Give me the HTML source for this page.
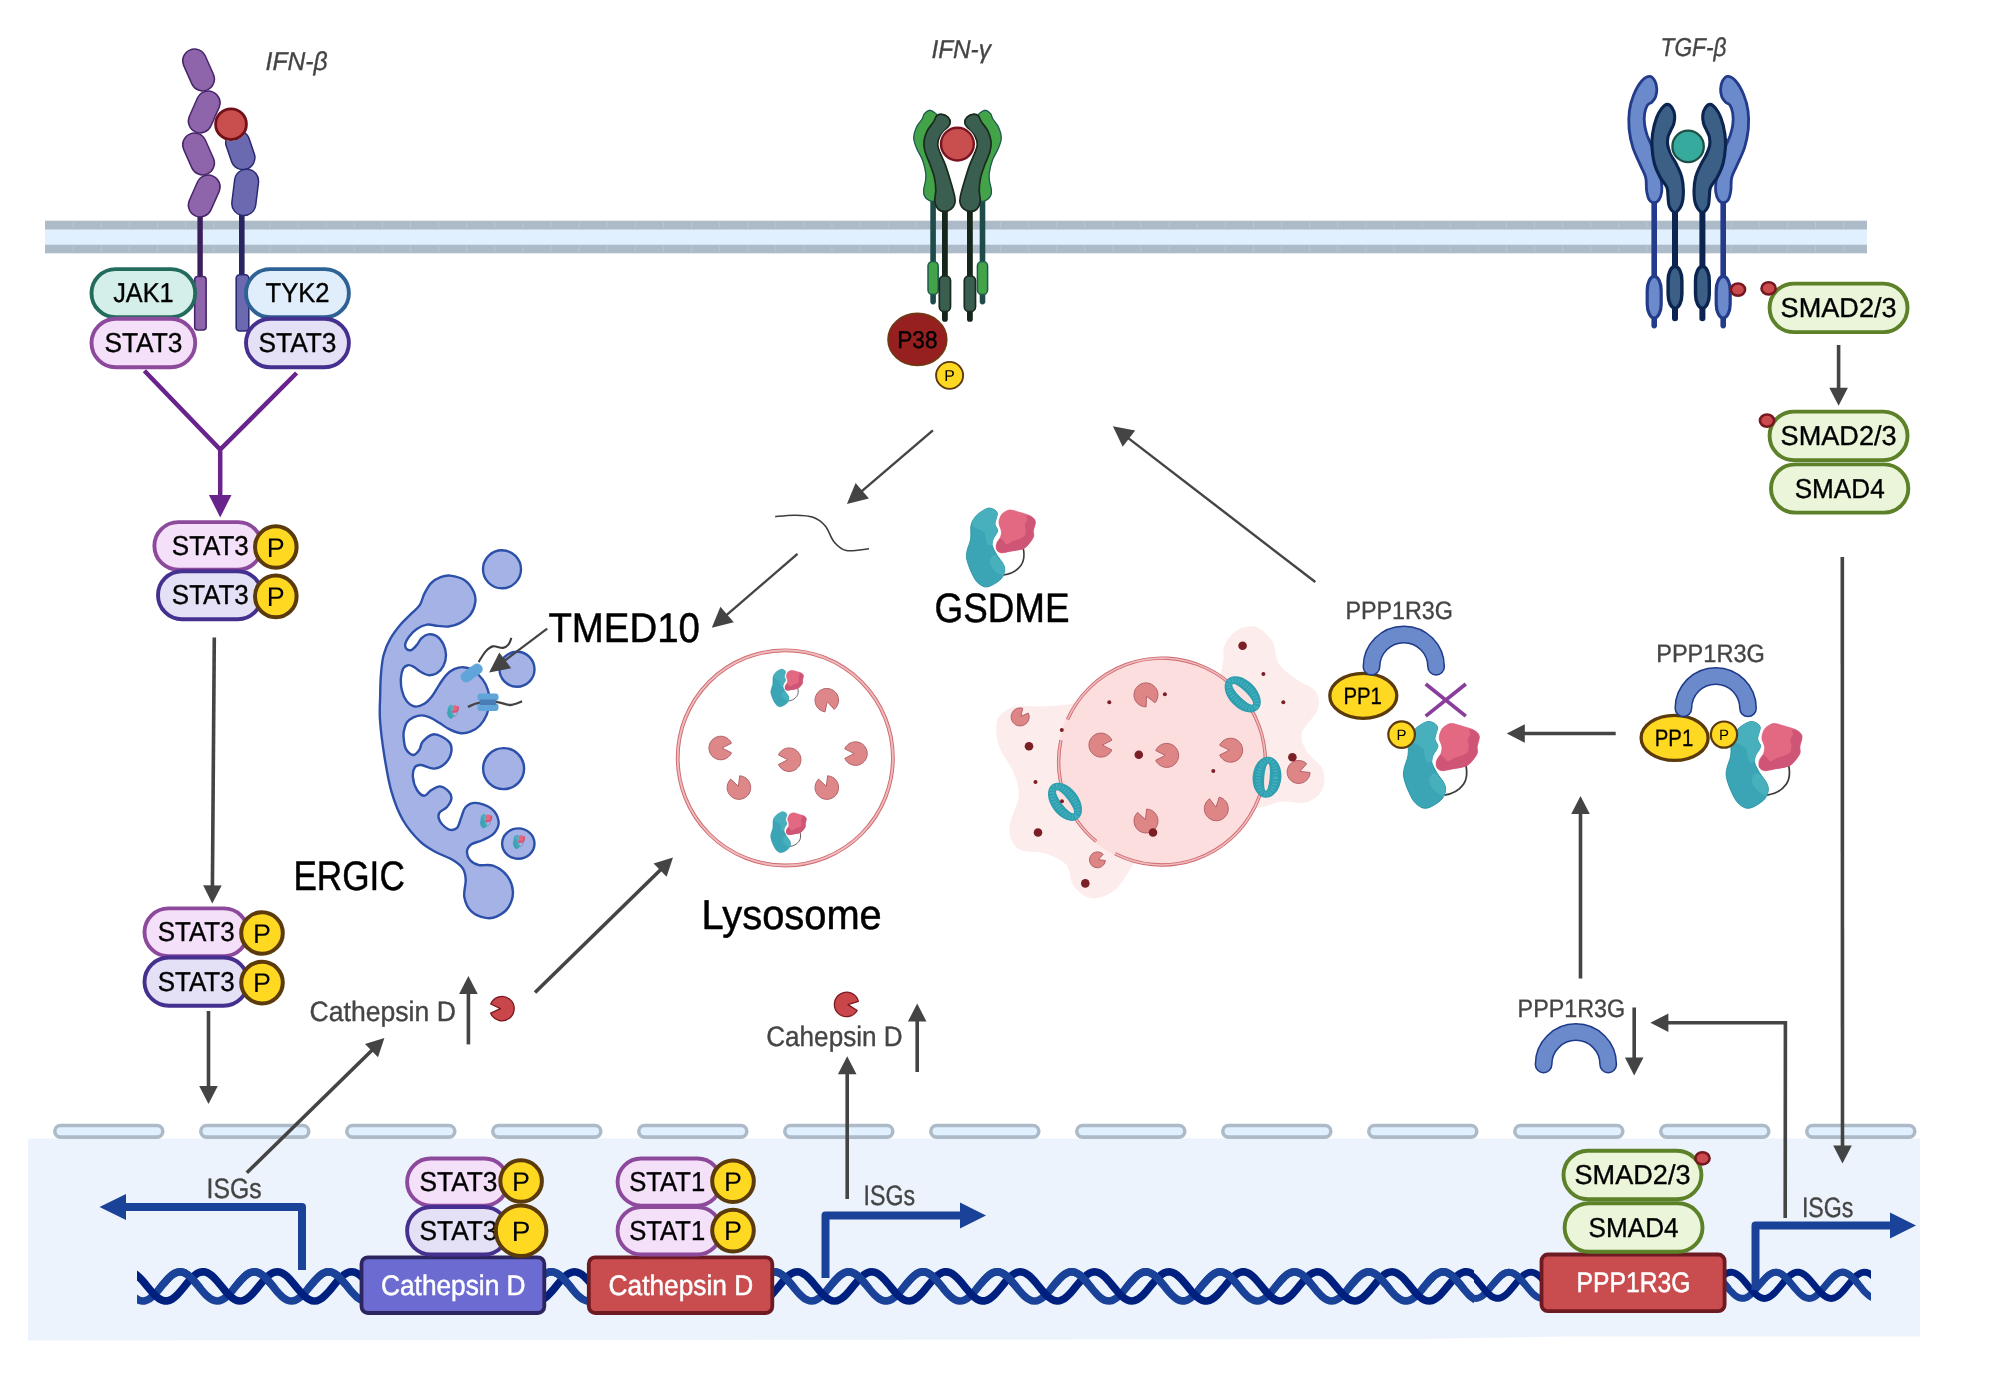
<!DOCTYPE html>
<html><head><meta charset="utf-8"><title>Signaling diagram</title>
<style>html,body{margin:0;padding:0;background:#fff}svg{display:block;will-change:transform}text{font-family:"Liberation Sans",sans-serif;text-rendering:geometricPrecision}</style>
</head><body>
<svg width="2000" height="1400" viewBox="0 0 2000 1400">
<rect width="2000" height="1400" fill="#ffffff"/>
<defs>
<g id="gsdme">
<path d="M57.3 40.3C58.6 47 58.6 52 55 57.2C50.5 63.5 44 66.2 37.6 67" fill="none" stroke="#3c3c3c" stroke-width="1.6"/>
<path d="M24.3 0.1C26.6 0.5 30.5 2.2 31.3 4.8C32.1 7.4 28.9 12.8 29 15.8C29.1 18.8 32 20.3 31.7 22.8C31.4 25.3 28.3 28.3 27.4 30.7C26.5 33.1 25.7 34.4 26.2 37C26.7 39.6 28.7 43.1 30.6 46.4C32.5 49.7 36.3 53.6 37.6 56.6C38.9 59.6 39 61.9 38.4 64.5C37.7 67.1 36.6 69.9 33.7 72.3C30.8 74.7 24.8 78.6 21.1 79C17.4 79.4 14.3 77.1 11.7 74.7C9.1 72.3 7.2 68.4 5.4 64.5C3.6 60.6 1.4 54.8 0.7 51.1C-0 47.4 0.5 45.9 1.1 42.5C1.8 39.1 4 34.9 4.6 30.7C5.3 26.5 4.2 21 5 17.3C5.8 13.6 7.3 11.2 9.3 8.7C11.3 6.2 14.7 3.8 17.2 2.4C19.7 1 21.9 -0.3 24.3 0.1Z" fill="#3ba5b6" stroke="#1f8f9f" stroke-width="0.8"/>
<path d="M24.3 0.2C26.6 0.6 30.4 2.3 31.2 4.9C32 7.5 28.9 12.8 29 15.8C29.1 18.8 31.8 20.4 31.6 22.8C31.3 25.3 28.3 28.5 27.4 30.7C26.5 32.9 27.2 35.2 26.2 36.2C25.3 37.3 23 37.9 21.9 37C20.8 36.1 20.1 32.7 19.6 30.7C19 28.7 19.8 26.8 18.8 25.2C17.7 23.6 15.1 22.3 13.3 21.3C11.4 20.2 9.1 20 7.8 18.9C6.5 17.9 5.2 16.7 5.4 15C5.7 13.3 7.4 10.8 9.3 8.7C11.3 6.6 14.7 4 17.2 2.6C19.7 1.2 21.9 -0.2 24.3 0.2Z" fill="#48b0bd"/>
<path d="M29 47.2C31.2 48.1 35.9 53.8 37.5 56.6C39 59.4 38.5 62.3 38.3 64.1C38 65.9 37.6 67.8 36.1 67.6C34.5 67.4 31 64.7 29 62.9C27 61.1 25.1 58.6 24.3 56.6C23.5 54.7 23.5 52.7 24.3 51.1C25.1 49.6 26.8 46.3 29 47.2Z" fill="#48b0bd"/>
<path d="M44.7 2C46.8 2.1 49.3 3 52.6 4C55.9 5 61.5 6.3 64.3 7.9C67.1 9.5 68.9 10.9 69.4 13.4C69.9 15.9 67.8 20.2 67.5 22.8C67.2 25.4 68.4 26.7 67.5 29.1C66.6 31.5 63.8 35 62 37C60.2 39 59.4 39.8 56.5 40.9C53.6 41.9 48.2 42.6 44.7 43.3C41.2 43.9 37.6 45.1 35.3 44.8C32.9 44.5 31.4 43.3 30.6 41.7C29.8 40.1 30 37.5 30.6 35.4C31.3 33.3 33.7 31.2 34.5 29.1C35.3 27 35.6 25.1 35.3 22.8C35 20.4 32.9 17.6 32.9 15C32.9 12.4 34.1 9.1 35.3 7.1C36.5 5.1 38.4 4 40 3.2C41.6 2.3 42.6 1.9 44.7 2Z" fill="#e36882" stroke="#d85a78" stroke-width="0.6"/>
<path d="M64.3 8.1C65.8 9 68.8 11 69.3 13.4C69.8 15.9 67.7 20.2 67.3 22.8C67 25.5 68.2 26.8 67.3 29.1C66.4 31.5 63.8 35 62 37C60.2 39 59.4 39.9 56.5 40.9C53.6 42 48.2 42.6 44.7 43.3C41.2 43.9 37.6 44.9 35.3 44.7C32.9 44.4 31.5 43.1 30.7 41.7C30 40.3 30.2 38 30.7 36.2C31.2 34.4 32.7 31.4 33.7 30.7C34.7 30 35.7 31.4 36.8 32.3C38 33.2 39.1 36.1 40.8 36.2C42.5 36.3 44.8 34 47.1 33.1C49.3 32.1 52.2 31.6 54.1 30.7C56.1 29.8 57.9 29.1 58.8 27.6C59.8 26 59.6 23.1 59.6 21.3C59.6 19.4 58.6 18.1 58.8 16.6C59.1 15 60.9 13.3 61.2 11.9C61.5 10.4 59.9 8.6 60.4 7.9C60.9 7.3 62.9 7.2 64.3 8.1Z" fill="#ce5575"/>
</g>
<clipPath id="upper"><rect x="0" y="1240" width="2000" height="46.4"/></clipPath>
<clipPath id="dnaclip"><rect x="137" y="1240" width="1337" height="100"/></clipPath>
<clipPath id="dnaclip2"><rect x="1474" y="1240" width="397" height="100"/></clipPath>
</defs>
<rect x="45" y="220.7" width="1822" height="32.6" fill="#adbbc8"/>
<rect x="45" y="229.5" width="1822" height="15.2" fill="#e1f0ff"/>
<path d="M73.2 220.7v8.8M73.2 244.7v8.6M101.3 220.7v8.8M101.3 244.7v8.6M129.4 220.7v8.8M129.4 244.7v8.6M157.6 220.7v8.8M157.6 244.7v8.6M185.7 220.7v8.8M185.7 244.7v8.6M213.8 220.7v8.8M213.8 244.7v8.6M241.9 220.7v8.8M241.9 244.7v8.6M270 220.7v8.8M270 244.7v8.6M298.1 220.7v8.8M298.1 244.7v8.6M326.1 220.7v8.8M326.1 244.7v8.6M354.2 220.7v8.8M354.2 244.7v8.6M382.4 220.7v8.8M382.4 244.7v8.6M410.5 220.7v8.8M410.5 244.7v8.6M438.6 220.7v8.8M438.6 244.7v8.6M466.7 220.7v8.8M466.7 244.7v8.6M494.8 220.7v8.8M494.8 244.7v8.6M522.9 220.7v8.8M522.9 244.7v8.6M551 220.7v8.8M551 244.7v8.6M579 220.7v8.8M579 244.7v8.6M607.1 220.7v8.8M607.1 244.7v8.6M635.2 220.7v8.8M635.2 244.7v8.6M663.4 220.7v8.8M663.4 244.7v8.6M691.5 220.7v8.8M691.5 244.7v8.6M719.6 220.7v8.8M719.6 244.7v8.6M747.7 220.7v8.8M747.7 244.7v8.6M775.8 220.7v8.8M775.8 244.7v8.6M803.9 220.7v8.8M803.9 244.7v8.6M832 220.7v8.8M832 244.7v8.6M860.1 220.7v8.8M860.1 244.7v8.6M888.2 220.7v8.8M888.2 244.7v8.6M916.2 220.7v8.8M916.2 244.7v8.6M944.4 220.7v8.8M944.4 244.7v8.6M972.5 220.7v8.8M972.5 244.7v8.6M1000.6 220.7v8.8M1000.6 244.7v8.6M1028.7 220.7v8.8M1028.7 244.7v8.6M1056.8 220.7v8.8M1056.8 244.7v8.6M1084.8 220.7v8.8M1084.8 244.7v8.6M1113 220.7v8.8M1113 244.7v8.6M1141 220.7v8.8M1141 244.7v8.6M1169.2 220.7v8.8M1169.2 244.7v8.6M1197.2 220.7v8.8M1197.2 244.7v8.6M1225.4 220.7v8.8M1225.4 244.7v8.6M1253.5 220.7v8.8M1253.5 244.7v8.6M1281.5 220.7v8.8M1281.5 244.7v8.6M1309.7 220.7v8.8M1309.7 244.7v8.6M1337.8 220.7v8.8M1337.8 244.7v8.6M1365.9 220.7v8.8M1365.9 244.7v8.6M1394 220.7v8.8M1394 244.7v8.6M1422.1 220.7v8.8M1422.1 244.7v8.6M1450.2 220.7v8.8M1450.2 244.7v8.6M1478.2 220.7v8.8M1478.2 244.7v8.6M1506.4 220.7v8.8M1506.4 244.7v8.6M1534.5 220.7v8.8M1534.5 244.7v8.6M1562.6 220.7v8.8M1562.6 244.7v8.6M1590.7 220.7v8.8M1590.7 244.7v8.6M1618.8 220.7v8.8M1618.8 244.7v8.6M1646.9 220.7v8.8M1646.9 244.7v8.6M1675 220.7v8.8M1675 244.7v8.6M1703.1 220.7v8.8M1703.1 244.7v8.6M1731.2 220.7v8.8M1731.2 244.7v8.6M1759.2 220.7v8.8M1759.2 244.7v8.6M1787.4 220.7v8.8M1787.4 244.7v8.6M1815.5 220.7v8.8M1815.5 244.7v8.6M1843.6 220.7v8.8M1843.6 244.7v8.6" stroke="#bcc8d3" stroke-width="0.8" fill="none"/>
<polygon points="28,1138.5 1920,1138.5 1920,1336.5 1560,1336.6 1400,1339.2 28,1340.5" fill="#ecf3fc"/>
<rect x="54.8" y="1125.5" width="108" height="11.6" rx="5.8" fill="#e1f0ff" stroke="#adbbc8" stroke-width="3.6"/>
<rect x="200.8" y="1125.5" width="108" height="11.6" rx="5.8" fill="#e1f0ff" stroke="#adbbc8" stroke-width="3.6"/>
<rect x="346.8" y="1125.5" width="108" height="11.6" rx="5.8" fill="#e1f0ff" stroke="#adbbc8" stroke-width="3.6"/>
<rect x="492.8" y="1125.5" width="108" height="11.6" rx="5.8" fill="#e1f0ff" stroke="#adbbc8" stroke-width="3.6"/>
<rect x="638.8" y="1125.5" width="108" height="11.6" rx="5.8" fill="#e1f0ff" stroke="#adbbc8" stroke-width="3.6"/>
<rect x="784.8" y="1125.5" width="108" height="11.6" rx="5.8" fill="#e1f0ff" stroke="#adbbc8" stroke-width="3.6"/>
<rect x="930.8" y="1125.5" width="108" height="11.6" rx="5.8" fill="#e1f0ff" stroke="#adbbc8" stroke-width="3.6"/>
<rect x="1076.8" y="1125.5" width="108" height="11.6" rx="5.8" fill="#e1f0ff" stroke="#adbbc8" stroke-width="3.6"/>
<rect x="1222.8" y="1125.5" width="108" height="11.6" rx="5.8" fill="#e1f0ff" stroke="#adbbc8" stroke-width="3.6"/>
<rect x="1368.8" y="1125.5" width="108" height="11.6" rx="5.8" fill="#e1f0ff" stroke="#adbbc8" stroke-width="3.6"/>
<rect x="1514.8" y="1125.5" width="108" height="11.6" rx="5.8" fill="#e1f0ff" stroke="#adbbc8" stroke-width="3.6"/>
<rect x="1660.8" y="1125.5" width="108" height="11.6" rx="5.8" fill="#e1f0ff" stroke="#adbbc8" stroke-width="3.6"/>
<rect x="1806.8" y="1125.5" width="108" height="11.6" rx="5.8" fill="#e1f0ff" stroke="#adbbc8" stroke-width="3.6"/>
<g clip-path="url(#dnaclip)">
<polyline points="127,1289.7 129.5,1292.6 132,1295.3 134.5,1297.5 137,1299.2 139.5,1300.4 142,1301 144.5,1300.9 147,1300.1 149.5,1298.8 152,1296.8 154.5,1294.5 157,1291.7 159.5,1288.8 162,1285.7 164.5,1282.6 167,1279.8 169.5,1277.2 172,1275 174.5,1273.4 177,1272.3 179.5,1271.8 182,1272 184.5,1272.8 187,1274.3 189.5,1276.3 192,1278.7 194.5,1281.5 197,1284.5 199.5,1287.5 202,1290.6 204.5,1293.4 207,1295.9 209.5,1298 212,1299.6 214.5,1300.6 217,1301 219.5,1300.7 222,1299.8 224.5,1298.3 227,1296.2 229.5,1293.7 232,1290.9 234.5,1287.9 237,1284.8 239.5,1281.8 242,1279 244.5,1276.5 247,1274.5 249.5,1273 252,1272.1 254.5,1271.8 257,1272.2 259.5,1273.2 262,1274.8 264.5,1276.9 267,1279.4 269.5,1282.3 272,1285.3 274.5,1288.4 277,1291.4 279.5,1294.2 282,1296.6 284.5,1298.6 287,1300 289.5,1300.8 292,1301 294.5,1300.5 297,1299.4 299.5,1297.7 302,1295.6 304.5,1293 307,1290.1 309.5,1287 312,1284 314.5,1281 317,1278.3 319.5,1275.9 322,1274 324.5,1272.7 327,1271.9 329.5,1271.8 332,1272.4 334.5,1273.6 337,1275.3 339.5,1277.6 342,1280.2 344.5,1283.1 347,1286.2 349.5,1289.3 352,1292.2 354.5,1294.9 357,1297.2 359.5,1299 362,1300.3 364.5,1300.9 367,1300.9 369.5,1300.3 372,1299 374.5,1297.2 377,1294.9 379.5,1292.2 382,1289.3 384.5,1286.2 387,1283.1 389.5,1280.2 392,1277.6 394.5,1275.3 397,1273.6 399.5,1272.4 402,1271.8 404.5,1271.9 407,1272.7 409.5,1274 412,1275.9 414.5,1278.3 417,1281 419.5,1284 422,1287 424.5,1290.1 427,1293 429.5,1295.6 432,1297.7 434.5,1299.4 437,1300.5 439.5,1301 442,1300.8 444.5,1300 447,1298.6 449.5,1296.6 452,1294.2 454.5,1291.4 457,1288.4 459.5,1285.3 462,1282.3 464.5,1279.4 467,1276.9 469.5,1274.8 472,1273.2 474.5,1272.2 477,1271.8 479.5,1272.1 482,1273 484.5,1274.5 487,1276.5 489.5,1279 492,1281.8 494.5,1284.8 497,1287.9 499.5,1290.9 502,1293.7 504.5,1296.2 507,1298.3 509.5,1299.8 512,1300.7 514.5,1301 517,1300.6 519.5,1299.6 522,1298 524.5,1295.9 527,1293.4 529.5,1290.6 532,1287.5 534.5,1284.5 537,1281.5 539.5,1278.7 542,1276.3 544.5,1274.3 547,1272.8 549.5,1272 552,1271.8 554.5,1272.3 557,1273.4 559.5,1275 562,1277.2 564.5,1279.8 567,1282.6 569.5,1285.7 572,1288.8 574.5,1291.7 577,1294.5 579.5,1296.8 582,1298.8 584.5,1300.1 587,1300.9 589.5,1301 592,1300.4 594.5,1299.2 597,1297.5 599.5,1295.3 602,1292.6 604.5,1289.7 607,1286.7 609.5,1283.6 612,1280.7 614.5,1278 617,1275.7 619.5,1273.8 622,1272.5 624.5,1271.9 627,1271.9 629.5,1272.5 632,1273.8 634.5,1275.6 637,1277.9 639.5,1280.6 642,1283.5 644.5,1286.6 647,1289.6 649.5,1292.5 652,1295.2 654.5,1297.4 657,1299.2 659.5,1300.4 662,1301 664.5,1300.9 667,1300.2 669.5,1298.8 672,1296.9 674.5,1294.6 677,1291.9 679.5,1288.9 682,1285.8 684.5,1282.8 687,1279.9 689.5,1277.3 692,1275.1 694.5,1273.4 697,1272.3 699.5,1271.8 702,1272 704.5,1272.8 707,1274.2 709.5,1276.2 712,1278.6 714.5,1281.4 717,1284.3 719.5,1287.4 722,1290.5 724.5,1293.3 727,1295.9 729.5,1298 732,1299.6 734.5,1300.6 737,1301 739.5,1300.7 742,1299.8 744.5,1298.3 747,1296.3 749.5,1293.8 752,1291 754.5,1288 757,1285 759.5,1281.9 762,1279.1 764.5,1276.6 767,1274.6 769.5,1273 772,1272.1 774.5,1271.8 777,1272.2 779.5,1273.1 782,1274.7 784.5,1276.8 787,1279.3 789.5,1282.2 792,1285.2 794.5,1288.3 797,1291.3 799.5,1294.1 802,1296.5 804.5,1298.5 807,1299.9 809.5,1300.8 812,1301 814.5,1300.5 817,1299.5 819.5,1297.8 822,1295.7 824.5,1293.1 827,1290.2 829.5,1287.2 832,1284.1 834.5,1281.1 837,1278.4 839.5,1276 842,1274.1 844.5,1272.7 847,1272 849.5,1271.8 852,1272.4 854.5,1273.5 857,1275.3 859.5,1277.5 862,1280.1 864.5,1283 867,1286.1 869.5,1289.1 872,1292.1 874.5,1294.8 877,1297.1 879.5,1298.9 882,1300.2 884.5,1300.9 887,1300.9 889.5,1300.3 892,1299.1 894.5,1297.3 897,1295 899.5,1292.3 902,1289.4 904.5,1286.3 907,1283.2 909.5,1280.3 912,1277.7 914.5,1275.4 917,1273.6 919.5,1272.4 922,1271.9 924.5,1271.9 927,1272.6 929.5,1274 932,1275.8 934.5,1278.2 937,1280.9 939.5,1283.9 942,1286.9 944.5,1290 947,1292.9 949.5,1295.5 952,1297.7 954.5,1299.4 957,1300.5 959.5,1301 962,1300.8 964.5,1300 967,1298.6 969.5,1296.7 972,1294.3 974.5,1291.5 977,1288.5 979.5,1285.4 982,1282.4 984.5,1279.5 987,1277 989.5,1274.9 992,1273.2 994.5,1272.2 997,1271.8 999.5,1272.1 1002,1272.9 1004.5,1274.4 1007,1276.4 1009.5,1278.9 1012,1281.7 1014.5,1284.7 1017,1287.8 1019.5,1290.8 1022,1293.6 1024.5,1296.1 1027,1298.2 1029.5,1299.7 1032,1300.7 1034.5,1301 1037,1300.7 1039.5,1299.7 1042,1298.1 1044.5,1296 1047,1293.5 1049.5,1290.7 1052,1287.7 1054.5,1284.6 1057,1281.6 1059.5,1278.8 1062,1276.4 1064.5,1274.4 1067,1272.9 1069.5,1272 1072,1271.8 1074.5,1272.2 1077,1273.3 1079.5,1274.9 1082,1277.1 1084.5,1279.7 1087,1282.5 1089.5,1285.6 1092,1288.6 1094.5,1291.6 1097,1294.4 1099.5,1296.8 1102,1298.7 1104.5,1300.1 1107,1300.8 1109.5,1301 1112,1300.5 1114.5,1299.3 1117,1297.6 1119.5,1295.4 1122,1292.8 1124.5,1289.9 1127,1286.8 1129.5,1283.7 1132,1280.8 1134.5,1278.1 1137,1275.7 1139.5,1273.9 1142,1272.6 1144.5,1271.9 1147,1271.9 1149.5,1272.5 1152,1273.7 1154.5,1275.5 1157,1277.8 1159.5,1280.4 1162,1283.4 1164.5,1286.4 1167,1289.5 1169.5,1292.4 1172,1295.1 1174.5,1297.3 1177,1299.1 1179.5,1300.3 1182,1300.9 1184.5,1300.9 1187,1300.2 1189.5,1298.9 1192,1297 1194.5,1294.7 1197,1292 1199.5,1289 1202,1285.9 1204.5,1282.9 1207,1280 1209.5,1277.4 1212,1275.2 1214.5,1273.5 1217,1272.3 1219.5,1271.8 1222,1272 1224.5,1272.8 1227,1274.1 1229.5,1276.1 1232,1278.5 1234.5,1281.2 1237,1284.2 1239.5,1287.3 1242,1290.3 1244.5,1293.2 1247,1295.8 1249.5,1297.9 1252,1299.5 1254.5,1300.6 1257,1301 1259.5,1300.8 1262,1299.9 1264.5,1298.4 1267,1296.4 1269.5,1293.9 1272,1291.2 1274.5,1288.2 1277,1285.1 1279.5,1282.1 1282,1279.2 1284.5,1276.7 1287,1274.6 1289.5,1273.1 1292,1272.1 1294.5,1271.8 1297,1272.1 1299.5,1273.1 1302,1274.6 1304.5,1276.7 1307,1279.2 1309.5,1282.1 1312,1285.1 1314.5,1288.2 1317,1291.2 1319.5,1293.9 1322,1296.4 1324.5,1298.4 1327,1299.9 1329.5,1300.8 1332,1301 1334.5,1300.6 1337,1299.5 1339.5,1297.9 1342,1295.8 1344.5,1293.2 1347,1290.3 1349.5,1287.3 1352,1284.2 1354.5,1281.2 1357,1278.5 1359.5,1276.1 1362,1274.1 1364.5,1272.8 1367,1272 1369.5,1271.8 1372,1272.3 1374.5,1273.5 1377,1275.2 1379.5,1277.4 1382,1280 1384.5,1282.9 1387,1285.9 1389.5,1289 1392,1292 1394.5,1294.7 1397,1297 1399.5,1298.9 1402,1300.2 1404.5,1300.9 1407,1300.9 1409.5,1300.3 1412,1299.1 1414.5,1297.3 1417,1295.1 1419.5,1292.4 1422,1289.5 1424.5,1286.4 1427,1283.4 1429.5,1280.4 1432,1277.8 1434.5,1275.5 1437,1273.7 1439.5,1272.5 1442,1271.9 1444.5,1271.9 1447,1272.6 1449.5,1273.9 1452,1275.7 1454.5,1278.1 1457,1280.8 1459.5,1283.7 1462,1286.8 1464.5,1289.9 1467,1292.8 1469.5,1295.4 1472,1297.6 1474.5,1299.3 1477,1300.5 1479.5,1301 1482,1300.8" fill="none" stroke="#1a4299" stroke-width="7.6"/>
<polyline points="127,1272 129.5,1271.8 132,1272.4 134.5,1273.5 137,1275.3 139.5,1277.5 142,1280.1 144.5,1283 147,1286.1 149.5,1289.1 152,1292.1 154.5,1294.8 157,1297.1 159.5,1298.9 162,1300.2 164.5,1300.9 167,1300.9 169.5,1300.3 172,1299.1 174.5,1297.3 177,1295 179.5,1292.3 182,1289.4 184.5,1286.3 187,1283.2 189.5,1280.3 192,1277.7 194.5,1275.4 197,1273.6 199.5,1272.4 202,1271.9 204.5,1271.9 207,1272.6 209.5,1274 212,1275.8 214.5,1278.2 217,1280.9 219.5,1283.9 222,1286.9 224.5,1290 227,1292.9 229.5,1295.5 232,1297.7 234.5,1299.4 237,1300.5 239.5,1301 242,1300.8 244.5,1300 247,1298.6 249.5,1296.7 252,1294.3 254.5,1291.5 257,1288.5 259.5,1285.4 262,1282.4 264.5,1279.5 267,1277 269.5,1274.9 272,1273.2 274.5,1272.2 277,1271.8 279.5,1272.1 282,1272.9 284.5,1274.4 287,1276.4 289.5,1278.9 292,1281.7 294.5,1284.7 297,1287.8 299.5,1290.8 302,1293.6 304.5,1296.1 307,1298.2 309.5,1299.7 312,1300.7 314.5,1301 317,1300.7 319.5,1299.7 322,1298.1 324.5,1296 327,1293.5 329.5,1290.7 332,1287.7 334.5,1284.6 337,1281.6 339.5,1278.8 342,1276.4 344.5,1274.4 347,1272.9 349.5,1272 352,1271.8 354.5,1272.2 357,1273.3 359.5,1274.9 362,1277.1 364.5,1279.7 367,1282.5 369.5,1285.6 372,1288.6 374.5,1291.6 377,1294.4 379.5,1296.8 382,1298.7 384.5,1300.1 387,1300.8 389.5,1301 392,1300.5 394.5,1299.3 397,1297.6 399.5,1295.4 402,1292.8 404.5,1289.9 407,1286.8 409.5,1283.7 412,1280.8 414.5,1278.1 417,1275.7 419.5,1273.9 422,1272.6 424.5,1271.9 427,1271.9 429.5,1272.5 432,1273.7 434.5,1275.5 437,1277.8 439.5,1280.4 442,1283.4 444.5,1286.4 447,1289.5 449.5,1292.4 452,1295.1 454.5,1297.3 457,1299.1 459.5,1300.3 462,1300.9 464.5,1300.9 467,1300.2 469.5,1298.9 472,1297 474.5,1294.7 477,1292 479.5,1289 482,1285.9 484.5,1282.9 487,1280 489.5,1277.4 492,1275.2 494.5,1273.5 497,1272.3 499.5,1271.8 502,1272 504.5,1272.8 507,1274.1 509.5,1276.1 512,1278.5 514.5,1281.2 517,1284.2 519.5,1287.3 522,1290.3 524.5,1293.2 527,1295.8 529.5,1297.9 532,1299.5 534.5,1300.6 537,1301 539.5,1300.8 542,1299.9 544.5,1298.4 547,1296.4 549.5,1293.9 552,1291.2 554.5,1288.2 557,1285.1 559.5,1282.1 562,1279.2 564.5,1276.7 567,1274.6 569.5,1273.1 572,1272.1 574.5,1271.8 577,1272.1 579.5,1273.1 582,1274.6 584.5,1276.7 587,1279.2 589.5,1282.1 592,1285.1 594.5,1288.2 597,1291.2 599.5,1293.9 602,1296.4 604.5,1298.4 607,1299.9 609.5,1300.8 612,1301 614.5,1300.6 617,1299.5 619.5,1297.9 622,1295.8 624.5,1293.2 627,1290.3 629.5,1287.3 632,1284.2 634.5,1281.2 637,1278.5 639.5,1276.1 642,1274.1 644.5,1272.8 647,1272 649.5,1271.8 652,1272.3 654.5,1273.5 657,1275.2 659.5,1277.4 662,1280 664.5,1282.9 667,1285.9 669.5,1289 672,1292 674.5,1294.7 677,1297 679.5,1298.9 682,1300.2 684.5,1300.9 687,1300.9 689.5,1300.3 692,1299.1 694.5,1297.3 697,1295.1 699.5,1292.4 702,1289.5 704.5,1286.4 707,1283.4 709.5,1280.4 712,1277.8 714.5,1275.5 717,1273.7 719.5,1272.5 722,1271.9 724.5,1271.9 727,1272.6 729.5,1273.9 732,1275.7 734.5,1278.1 737,1280.8 739.5,1283.7 742,1286.8 744.5,1289.9 747,1292.8 749.5,1295.4 752,1297.6 754.5,1299.3 757,1300.5 759.5,1301 762,1300.8 764.5,1300.1 767,1298.7 769.5,1296.8 772,1294.4 774.5,1291.6 777,1288.6 779.5,1285.6 782,1282.5 784.5,1279.7 787,1277.1 789.5,1274.9 792,1273.3 794.5,1272.2 797,1271.8 799.5,1272 802,1272.9 804.5,1274.4 807,1276.4 809.5,1278.8 812,1281.6 814.5,1284.6 817,1287.7 819.5,1290.7 822,1293.5 824.5,1296 827,1298.1 829.5,1299.7 832,1300.7 834.5,1301 837,1300.7 839.5,1299.7 842,1298.2 844.5,1296.1 847,1293.6 849.5,1290.8 852,1287.8 854.5,1284.7 857,1281.7 859.5,1278.9 862,1276.4 864.5,1274.4 867,1272.9 869.5,1272.1 872,1271.8 874.5,1272.2 877,1273.2 879.5,1274.9 882,1277 884.5,1279.5 887,1282.4 889.5,1285.4 892,1288.5 894.5,1291.5 897,1294.3 899.5,1296.7 902,1298.6 904.5,1300 907,1300.8 909.5,1301 912,1300.5 914.5,1299.4 917,1297.7 919.5,1295.5 922,1292.9 924.5,1290 927,1286.9 929.5,1283.9 932,1280.9 934.5,1278.2 937,1275.8 939.5,1274 942,1272.6 944.5,1271.9 947,1271.9 949.5,1272.4 952,1273.6 954.5,1275.4 957,1277.7 959.5,1280.3 962,1283.2 964.5,1286.3 967,1289.4 969.5,1292.3 972,1295 974.5,1297.3 977,1299.1 979.5,1300.3 982,1300.9 984.5,1300.9 987,1300.2 989.5,1298.9 992,1297.1 994.5,1294.8 997,1292.1 999.5,1289.1 1002,1286.1 1004.5,1283 1007,1280.1 1009.5,1277.5 1012,1275.3 1014.5,1273.5 1017,1272.4 1019.5,1271.8 1022,1272 1024.5,1272.7 1027,1274.1 1029.5,1276 1032,1278.4 1034.5,1281.1 1037,1284.1 1039.5,1287.2 1042,1290.2 1044.5,1293.1 1047,1295.7 1049.5,1297.8 1052,1299.5 1054.5,1300.5 1057,1301 1059.5,1300.8 1062,1299.9 1064.5,1298.5 1067,1296.5 1069.5,1294.1 1072,1291.3 1074.5,1288.3 1077,1285.2 1079.5,1282.2 1082,1279.3 1084.5,1276.8 1087,1274.7 1089.5,1273.1 1092,1272.2 1094.5,1271.8 1097,1272.1 1099.5,1273 1102,1274.6 1104.5,1276.6 1107,1279.1 1109.5,1281.9 1112,1285 1114.5,1288 1117,1291 1119.5,1293.8 1122,1296.3 1124.5,1298.3 1127,1299.8 1129.5,1300.7 1132,1301 1134.5,1300.6 1137,1299.6 1139.5,1298 1142,1295.9 1144.5,1293.3 1147,1290.5 1149.5,1287.4 1152,1284.3 1154.5,1281.4 1157,1278.6 1159.5,1276.2 1162,1274.2 1164.5,1272.8 1167,1272 1169.5,1271.8 1172,1272.3 1174.5,1273.4 1177,1275.1 1179.5,1277.3 1182,1279.9 1184.5,1282.8 1187,1285.8 1189.5,1288.9 1192,1291.9 1194.5,1294.6 1197,1296.9 1199.5,1298.8 1202,1300.2 1204.5,1300.9 1207,1301 1209.5,1300.4 1212,1299.2 1214.5,1297.4 1217,1295.2 1219.5,1292.5 1222,1289.6 1224.5,1286.6 1227,1283.5 1229.5,1280.6 1232,1277.9 1234.5,1275.6 1237,1273.8 1239.5,1272.5 1242,1271.9 1244.5,1271.9 1247,1272.5 1249.5,1273.8 1252,1275.7 1254.5,1278 1257,1280.7 1259.5,1283.6 1262,1286.7 1264.5,1289.7 1267,1292.6 1269.5,1295.3 1272,1297.5 1274.5,1299.2 1277,1300.4 1279.5,1301 1282,1300.9 1284.5,1300.1 1287,1298.8 1289.5,1296.8 1292,1294.5 1294.5,1291.7 1297,1288.8 1299.5,1285.7 1302,1282.6 1304.5,1279.8 1307,1277.2 1309.5,1275 1312,1273.4 1314.5,1272.3 1317,1271.8 1319.5,1272 1322,1272.8 1324.5,1274.3 1327,1276.3 1329.5,1278.7 1332,1281.5 1334.5,1284.5 1337,1287.5 1339.5,1290.6 1342,1293.4 1344.5,1295.9 1347,1298 1349.5,1299.6 1352,1300.6 1354.5,1301 1357,1300.7 1359.5,1299.8 1362,1298.3 1364.5,1296.2 1367,1293.7 1369.5,1290.9 1372,1287.9 1374.5,1284.8 1377,1281.8 1379.5,1279 1382,1276.5 1384.5,1274.5 1387,1273 1389.5,1272.1 1392,1271.8 1394.5,1272.2 1397,1273.2 1399.5,1274.8 1402,1276.9 1404.5,1279.4 1407,1282.3 1409.5,1285.3 1412,1288.4 1414.5,1291.4 1417,1294.2 1419.5,1296.6 1422,1298.6 1424.5,1300 1427,1300.8 1429.5,1301 1432,1300.5 1434.5,1299.4 1437,1297.7 1439.5,1295.6 1442,1293 1444.5,1290.1 1447,1287 1449.5,1284 1452,1281 1454.5,1278.3 1457,1275.9 1459.5,1274 1462,1272.7 1464.5,1271.9 1467,1271.8 1469.5,1272.4 1472,1273.6 1474.5,1275.3 1477,1277.6 1479.5,1280.2 1482,1283.1" fill="none" stroke="#00207f" stroke-width="7.6"/>
<g clip-path="url(#upper)"><polyline points="127,1289.7 129.5,1292.6 132,1295.3 134.5,1297.5 137,1299.2 139.5,1300.4 142,1301 144.5,1300.9 147,1300.1 149.5,1298.8 152,1296.8 154.5,1294.5 157,1291.7 159.5,1288.8 162,1285.7 164.5,1282.6 167,1279.8 169.5,1277.2 172,1275 174.5,1273.4 177,1272.3 179.5,1271.8 182,1272 184.5,1272.8 187,1274.3 189.5,1276.3 192,1278.7 194.5,1281.5 197,1284.5 199.5,1287.5 202,1290.6 204.5,1293.4 207,1295.9 209.5,1298 212,1299.6 214.5,1300.6 217,1301 219.5,1300.7 222,1299.8 224.5,1298.3 227,1296.2 229.5,1293.7 232,1290.9 234.5,1287.9 237,1284.8 239.5,1281.8 242,1279 244.5,1276.5 247,1274.5 249.5,1273 252,1272.1 254.5,1271.8 257,1272.2 259.5,1273.2 262,1274.8 264.5,1276.9 267,1279.4 269.5,1282.3 272,1285.3 274.5,1288.4 277,1291.4 279.5,1294.2 282,1296.6 284.5,1298.6 287,1300 289.5,1300.8 292,1301 294.5,1300.5 297,1299.4 299.5,1297.7 302,1295.6 304.5,1293 307,1290.1 309.5,1287 312,1284 314.5,1281 317,1278.3 319.5,1275.9 322,1274 324.5,1272.7 327,1271.9 329.5,1271.8 332,1272.4 334.5,1273.6 337,1275.3 339.5,1277.6 342,1280.2 344.5,1283.1 347,1286.2 349.5,1289.3 352,1292.2 354.5,1294.9 357,1297.2 359.5,1299 362,1300.3 364.5,1300.9 367,1300.9 369.5,1300.3 372,1299 374.5,1297.2 377,1294.9 379.5,1292.2 382,1289.3 384.5,1286.2 387,1283.1 389.5,1280.2 392,1277.6 394.5,1275.3 397,1273.6 399.5,1272.4 402,1271.8 404.5,1271.9 407,1272.7 409.5,1274 412,1275.9 414.5,1278.3 417,1281 419.5,1284 422,1287 424.5,1290.1 427,1293 429.5,1295.6 432,1297.7 434.5,1299.4 437,1300.5 439.5,1301 442,1300.8 444.5,1300 447,1298.6 449.5,1296.6 452,1294.2 454.5,1291.4 457,1288.4 459.5,1285.3 462,1282.3 464.5,1279.4 467,1276.9 469.5,1274.8 472,1273.2 474.5,1272.2 477,1271.8 479.5,1272.1 482,1273 484.5,1274.5 487,1276.5 489.5,1279 492,1281.8 494.5,1284.8 497,1287.9 499.5,1290.9 502,1293.7 504.5,1296.2 507,1298.3 509.5,1299.8 512,1300.7 514.5,1301 517,1300.6 519.5,1299.6 522,1298 524.5,1295.9 527,1293.4 529.5,1290.6 532,1287.5 534.5,1284.5 537,1281.5 539.5,1278.7 542,1276.3 544.5,1274.3 547,1272.8 549.5,1272 552,1271.8 554.5,1272.3 557,1273.4 559.5,1275 562,1277.2 564.5,1279.8 567,1282.6 569.5,1285.7 572,1288.8 574.5,1291.7 577,1294.5 579.5,1296.8 582,1298.8 584.5,1300.1 587,1300.9 589.5,1301 592,1300.4 594.5,1299.2 597,1297.5 599.5,1295.3 602,1292.6 604.5,1289.7 607,1286.7 609.5,1283.6 612,1280.7 614.5,1278 617,1275.7 619.5,1273.8 622,1272.5 624.5,1271.9 627,1271.9 629.5,1272.5 632,1273.8 634.5,1275.6 637,1277.9 639.5,1280.6 642,1283.5 644.5,1286.6 647,1289.6 649.5,1292.5 652,1295.2 654.5,1297.4 657,1299.2 659.5,1300.4 662,1301 664.5,1300.9 667,1300.2 669.5,1298.8 672,1296.9 674.5,1294.6 677,1291.9 679.5,1288.9 682,1285.8 684.5,1282.8 687,1279.9 689.5,1277.3 692,1275.1 694.5,1273.4 697,1272.3 699.5,1271.8 702,1272 704.5,1272.8 707,1274.2 709.5,1276.2 712,1278.6 714.5,1281.4 717,1284.3 719.5,1287.4 722,1290.5 724.5,1293.3 727,1295.9 729.5,1298 732,1299.6 734.5,1300.6 737,1301 739.5,1300.7 742,1299.8 744.5,1298.3 747,1296.3 749.5,1293.8 752,1291 754.5,1288 757,1285 759.5,1281.9 762,1279.1 764.5,1276.6 767,1274.6 769.5,1273 772,1272.1 774.5,1271.8 777,1272.2 779.5,1273.1 782,1274.7 784.5,1276.8 787,1279.3 789.5,1282.2 792,1285.2 794.5,1288.3 797,1291.3 799.5,1294.1 802,1296.5 804.5,1298.5 807,1299.9 809.5,1300.8 812,1301 814.5,1300.5 817,1299.5 819.5,1297.8 822,1295.7 824.5,1293.1 827,1290.2 829.5,1287.2 832,1284.1 834.5,1281.1 837,1278.4 839.5,1276 842,1274.1 844.5,1272.7 847,1272 849.5,1271.8 852,1272.4 854.5,1273.5 857,1275.3 859.5,1277.5 862,1280.1 864.5,1283 867,1286.1 869.5,1289.1 872,1292.1 874.5,1294.8 877,1297.1 879.5,1298.9 882,1300.2 884.5,1300.9 887,1300.9 889.5,1300.3 892,1299.1 894.5,1297.3 897,1295 899.5,1292.3 902,1289.4 904.5,1286.3 907,1283.2 909.5,1280.3 912,1277.7 914.5,1275.4 917,1273.6 919.5,1272.4 922,1271.9 924.5,1271.9 927,1272.6 929.5,1274 932,1275.8 934.5,1278.2 937,1280.9 939.5,1283.9 942,1286.9 944.5,1290 947,1292.9 949.5,1295.5 952,1297.7 954.5,1299.4 957,1300.5 959.5,1301 962,1300.8 964.5,1300 967,1298.6 969.5,1296.7 972,1294.3 974.5,1291.5 977,1288.5 979.5,1285.4 982,1282.4 984.5,1279.5 987,1277 989.5,1274.9 992,1273.2 994.5,1272.2 997,1271.8 999.5,1272.1 1002,1272.9 1004.5,1274.4 1007,1276.4 1009.5,1278.9 1012,1281.7 1014.5,1284.7 1017,1287.8 1019.5,1290.8 1022,1293.6 1024.5,1296.1 1027,1298.2 1029.5,1299.7 1032,1300.7 1034.5,1301 1037,1300.7 1039.5,1299.7 1042,1298.1 1044.5,1296 1047,1293.5 1049.5,1290.7 1052,1287.7 1054.5,1284.6 1057,1281.6 1059.5,1278.8 1062,1276.4 1064.5,1274.4 1067,1272.9 1069.5,1272 1072,1271.8 1074.5,1272.2 1077,1273.3 1079.5,1274.9 1082,1277.1 1084.5,1279.7 1087,1282.5 1089.5,1285.6 1092,1288.6 1094.5,1291.6 1097,1294.4 1099.5,1296.8 1102,1298.7 1104.5,1300.1 1107,1300.8 1109.5,1301 1112,1300.5 1114.5,1299.3 1117,1297.6 1119.5,1295.4 1122,1292.8 1124.5,1289.9 1127,1286.8 1129.5,1283.7 1132,1280.8 1134.5,1278.1 1137,1275.7 1139.5,1273.9 1142,1272.6 1144.5,1271.9 1147,1271.9 1149.5,1272.5 1152,1273.7 1154.5,1275.5 1157,1277.8 1159.5,1280.4 1162,1283.4 1164.5,1286.4 1167,1289.5 1169.5,1292.4 1172,1295.1 1174.5,1297.3 1177,1299.1 1179.5,1300.3 1182,1300.9 1184.5,1300.9 1187,1300.2 1189.5,1298.9 1192,1297 1194.5,1294.7 1197,1292 1199.5,1289 1202,1285.9 1204.5,1282.9 1207,1280 1209.5,1277.4 1212,1275.2 1214.5,1273.5 1217,1272.3 1219.5,1271.8 1222,1272 1224.5,1272.8 1227,1274.1 1229.5,1276.1 1232,1278.5 1234.5,1281.2 1237,1284.2 1239.5,1287.3 1242,1290.3 1244.5,1293.2 1247,1295.8 1249.5,1297.9 1252,1299.5 1254.5,1300.6 1257,1301 1259.5,1300.8 1262,1299.9 1264.5,1298.4 1267,1296.4 1269.5,1293.9 1272,1291.2 1274.5,1288.2 1277,1285.1 1279.5,1282.1 1282,1279.2 1284.5,1276.7 1287,1274.6 1289.5,1273.1 1292,1272.1 1294.5,1271.8 1297,1272.1 1299.5,1273.1 1302,1274.6 1304.5,1276.7 1307,1279.2 1309.5,1282.1 1312,1285.1 1314.5,1288.2 1317,1291.2 1319.5,1293.9 1322,1296.4 1324.5,1298.4 1327,1299.9 1329.5,1300.8 1332,1301 1334.5,1300.6 1337,1299.5 1339.5,1297.9 1342,1295.8 1344.5,1293.2 1347,1290.3 1349.5,1287.3 1352,1284.2 1354.5,1281.2 1357,1278.5 1359.5,1276.1 1362,1274.1 1364.5,1272.8 1367,1272 1369.5,1271.8 1372,1272.3 1374.5,1273.5 1377,1275.2 1379.5,1277.4 1382,1280 1384.5,1282.9 1387,1285.9 1389.5,1289 1392,1292 1394.5,1294.7 1397,1297 1399.5,1298.9 1402,1300.2 1404.5,1300.9 1407,1300.9 1409.5,1300.3 1412,1299.1 1414.5,1297.3 1417,1295.1 1419.5,1292.4 1422,1289.5 1424.5,1286.4 1427,1283.4 1429.5,1280.4 1432,1277.8 1434.5,1275.5 1437,1273.7 1439.5,1272.5 1442,1271.9 1444.5,1271.9 1447,1272.6 1449.5,1273.9 1452,1275.7 1454.5,1278.1 1457,1280.8 1459.5,1283.7 1462,1286.8 1464.5,1289.9 1467,1292.8 1469.5,1295.4 1472,1297.6 1474.5,1299.3 1477,1300.5 1479.5,1301 1482,1300.8" fill="none" stroke="#1a4299" stroke-width="7.6"/></g>
</g>
<g clip-path="url(#dnaclip2)">
<polyline points="1464,1291.3 1466.5,1293.8 1469,1295.9 1471.5,1297.4 1474,1298.2 1476.5,1298.4 1479,1297.8 1481.5,1296.5 1484,1294.6 1486.5,1292.1 1489,1289.3 1491.5,1286.3 1494,1283.2 1496.5,1280.3 1499,1277.6 1501.5,1275.3 1504,1273.6 1506.5,1272.6 1509,1272.2 1511.5,1272.6 1514,1273.6 1516.5,1275.3 1519,1277.6 1521.5,1280.3 1524,1283.2 1526.5,1286.3 1529,1289.3 1531.5,1292.1 1534,1294.6 1536.5,1296.5 1539,1297.8 1541.5,1298.4 1544,1298.2 1546.5,1297.4 1549,1295.9 1551.5,1293.8 1554,1291.3 1556.5,1288.4 1559,1285.3 1561.5,1282.3 1564,1279.4 1566.5,1276.8 1569,1274.7 1571.5,1273.2 1574,1272.4 1576.5,1272.2 1579,1272.8 1581.5,1274.1 1584,1276 1586.5,1278.4 1589,1281.2 1591.5,1284.2 1594,1287.3 1596.5,1290.3 1599,1293 1601.5,1295.2 1604,1296.9 1606.5,1298 1609,1298.4 1611.5,1298.1 1614,1297 1616.5,1295.3 1619,1293.1 1621.5,1290.4 1624,1287.4 1626.5,1284.3 1629,1281.3 1631.5,1278.5 1634,1276.1 1636.5,1274.2 1639,1272.9 1641.5,1272.2 1644,1272.3 1646.5,1273.2 1649,1274.7 1651.5,1276.7 1654,1279.3 1656.5,1282.2 1659,1285.2 1661.5,1288.3 1664,1291.2 1666.5,1293.7 1669,1295.8 1671.5,1297.4 1674,1298.2 1676.5,1298.4 1679,1297.8 1681.5,1296.5 1684,1294.6 1686.5,1292.2 1689,1289.5 1691.5,1286.4 1694,1283.4 1696.5,1280.4 1699,1277.7 1701.5,1275.4 1704,1273.7 1706.5,1272.6 1709,1272.2 1711.5,1272.5 1714,1273.6 1716.5,1275.3 1719,1277.5 1721.5,1280.2 1724,1283.1 1726.5,1286.2 1729,1289.2 1731.5,1292 1734,1294.5 1736.5,1296.4 1739,1297.7 1741.5,1298.3 1744,1298.3 1746.5,1297.5 1749,1296 1751.5,1293.9 1754,1291.4 1756.5,1288.5 1759,1285.5 1761.5,1282.4 1764,1279.5 1766.5,1276.9 1769,1274.8 1771.5,1273.3 1774,1272.4 1776.5,1272.2 1779,1272.8 1781.5,1274 1784,1275.9 1786.5,1278.3 1789,1281.1 1791.5,1284.1 1794,1287.2 1796.5,1290.1 1799,1292.9 1801.5,1295.1 1804,1296.9 1806.5,1298 1809,1298.4 1811.5,1298.1 1814,1297.1 1816.5,1295.4 1819,1293.2 1821.5,1290.5 1824,1287.5 1826.5,1284.5 1829,1281.4 1831.5,1278.6 1834,1276.2 1836.5,1274.2 1839,1272.9 1841.5,1272.3 1844,1272.3 1846.5,1273.1 1849,1274.6 1851.5,1276.6 1854,1279.2 1856.5,1282 1859,1285.1 1861.5,1288.1 1864,1291.1 1866.5,1293.6 1869,1295.8 1871.5,1297.3 1874,1298.2 1876.5,1298.4 1879,1297.8" fill="none" stroke="#1a4299" stroke-width="6.9"/>
<polyline points="1464,1272.2 1466.5,1272.5 1469,1273.5 1471.5,1275.1 1474,1277.3 1476.5,1279.9 1479,1282.9 1481.5,1285.9 1484,1289 1486.5,1291.8 1489,1294.3 1491.5,1296.3 1494,1297.6 1496.5,1298.3 1499,1298.3 1501.5,1297.5 1504,1296.1 1506.5,1294.1 1509,1291.6 1511.5,1288.7 1514,1285.7 1516.5,1282.6 1519,1279.7 1521.5,1277.1 1524,1274.9 1526.5,1273.4 1529,1272.4 1531.5,1272.2 1534,1272.7 1536.5,1273.9 1539,1275.7 1541.5,1278.1 1544,1280.9 1546.5,1283.9 1549,1286.9 1551.5,1289.9 1554,1292.7 1556.5,1295 1559,1296.8 1561.5,1297.9 1564,1298.4 1566.5,1298.1 1569,1297.2 1571.5,1295.5 1574,1293.4 1576.5,1290.7 1579,1287.8 1581.5,1284.7 1584,1281.7 1586.5,1278.8 1589,1276.4 1591.5,1274.4 1594,1273 1596.5,1272.3 1599,1272.3 1601.5,1273 1604,1274.4 1606.5,1276.4 1609,1278.9 1611.5,1281.8 1614,1284.8 1616.5,1287.9 1619,1290.8 1621.5,1293.4 1624,1295.6 1626.5,1297.2 1629,1298.2 1631.5,1298.4 1634,1297.9 1636.5,1296.7 1639,1294.9 1641.5,1292.5 1644,1289.8 1646.5,1286.8 1649,1283.7 1651.5,1280.7 1654,1278 1656.5,1275.7 1659,1273.9 1661.5,1272.7 1664,1272.2 1666.5,1272.5 1669,1273.4 1671.5,1275 1674,1277.2 1676.5,1279.8 1679,1282.8 1681.5,1285.8 1684,1288.9 1686.5,1291.7 1689,1294.2 1691.5,1296.2 1694,1297.6 1696.5,1298.3 1699,1298.3 1701.5,1297.6 1704,1296.2 1706.5,1294.2 1709,1291.7 1711.5,1288.9 1714,1285.8 1716.5,1282.8 1719,1279.8 1721.5,1277.2 1724,1275 1726.5,1273.4 1729,1272.5 1731.5,1272.2 1734,1272.7 1736.5,1273.9 1739,1275.7 1741.5,1278 1744,1280.7 1746.5,1283.7 1749,1286.8 1751.5,1289.8 1754,1292.5 1756.5,1294.9 1759,1296.7 1761.5,1297.9 1764,1298.4 1766.5,1298.2 1769,1297.2 1771.5,1295.6 1774,1293.4 1776.5,1290.8 1779,1287.9 1781.5,1284.8 1784,1281.8 1786.5,1278.9 1789,1276.4 1791.5,1274.4 1794,1273 1796.5,1272.3 1799,1272.3 1801.5,1273 1804,1274.4 1806.5,1276.4 1809,1278.8 1811.5,1281.7 1814,1284.7 1816.5,1287.8 1819,1290.7 1821.5,1293.4 1824,1295.5 1826.5,1297.2 1829,1298.1 1831.5,1298.4 1834,1297.9 1836.5,1296.8 1839,1295 1841.5,1292.7 1844,1289.9 1846.5,1286.9 1849,1283.9 1851.5,1280.9 1854,1278.1 1856.5,1275.7 1859,1273.9 1861.5,1272.7 1864,1272.2 1866.5,1272.4 1869,1273.4 1871.5,1274.9 1874,1277.1 1876.5,1279.7 1879,1282.6" fill="none" stroke="#00207f" stroke-width="6.9"/>
<g clip-path="url(#upper)"><polyline points="1464,1291.3 1466.5,1293.8 1469,1295.9 1471.5,1297.4 1474,1298.2 1476.5,1298.4 1479,1297.8 1481.5,1296.5 1484,1294.6 1486.5,1292.1 1489,1289.3 1491.5,1286.3 1494,1283.2 1496.5,1280.3 1499,1277.6 1501.5,1275.3 1504,1273.6 1506.5,1272.6 1509,1272.2 1511.5,1272.6 1514,1273.6 1516.5,1275.3 1519,1277.6 1521.5,1280.3 1524,1283.2 1526.5,1286.3 1529,1289.3 1531.5,1292.1 1534,1294.6 1536.5,1296.5 1539,1297.8 1541.5,1298.4 1544,1298.2 1546.5,1297.4 1549,1295.9 1551.5,1293.8 1554,1291.3 1556.5,1288.4 1559,1285.3 1561.5,1282.3 1564,1279.4 1566.5,1276.8 1569,1274.7 1571.5,1273.2 1574,1272.4 1576.5,1272.2 1579,1272.8 1581.5,1274.1 1584,1276 1586.5,1278.4 1589,1281.2 1591.5,1284.2 1594,1287.3 1596.5,1290.3 1599,1293 1601.5,1295.2 1604,1296.9 1606.5,1298 1609,1298.4 1611.5,1298.1 1614,1297 1616.5,1295.3 1619,1293.1 1621.5,1290.4 1624,1287.4 1626.5,1284.3 1629,1281.3 1631.5,1278.5 1634,1276.1 1636.5,1274.2 1639,1272.9 1641.5,1272.2 1644,1272.3 1646.5,1273.2 1649,1274.7 1651.5,1276.7 1654,1279.3 1656.5,1282.2 1659,1285.2 1661.5,1288.3 1664,1291.2 1666.5,1293.7 1669,1295.8 1671.5,1297.4 1674,1298.2 1676.5,1298.4 1679,1297.8 1681.5,1296.5 1684,1294.6 1686.5,1292.2 1689,1289.5 1691.5,1286.4 1694,1283.4 1696.5,1280.4 1699,1277.7 1701.5,1275.4 1704,1273.7 1706.5,1272.6 1709,1272.2 1711.5,1272.5 1714,1273.6 1716.5,1275.3 1719,1277.5 1721.5,1280.2 1724,1283.1 1726.5,1286.2 1729,1289.2 1731.5,1292 1734,1294.5 1736.5,1296.4 1739,1297.7 1741.5,1298.3 1744,1298.3 1746.5,1297.5 1749,1296 1751.5,1293.9 1754,1291.4 1756.5,1288.5 1759,1285.5 1761.5,1282.4 1764,1279.5 1766.5,1276.9 1769,1274.8 1771.5,1273.3 1774,1272.4 1776.5,1272.2 1779,1272.8 1781.5,1274 1784,1275.9 1786.5,1278.3 1789,1281.1 1791.5,1284.1 1794,1287.2 1796.5,1290.1 1799,1292.9 1801.5,1295.1 1804,1296.9 1806.5,1298 1809,1298.4 1811.5,1298.1 1814,1297.1 1816.5,1295.4 1819,1293.2 1821.5,1290.5 1824,1287.5 1826.5,1284.5 1829,1281.4 1831.5,1278.6 1834,1276.2 1836.5,1274.2 1839,1272.9 1841.5,1272.3 1844,1272.3 1846.5,1273.1 1849,1274.6 1851.5,1276.6 1854,1279.2 1856.5,1282 1859,1285.1 1861.5,1288.1 1864,1291.1 1866.5,1293.6 1869,1295.8 1871.5,1297.3 1874,1298.2 1876.5,1298.4 1879,1297.8" fill="none" stroke="#1a4299" stroke-width="6.9"/></g>
</g>
<polyline points="302,1270 302,1207 124,1207" fill="none" stroke="#1a4299" stroke-width="8" stroke-linejoin="round"/>
<polygon points="99.5,1207 126,1194 126,1220" fill="#1a4299"/>
<polyline points="825.5,1278 825.5,1215.5 962,1215.5" fill="none" stroke="#1a4299" stroke-width="8" stroke-linejoin="round"/>
<polygon points="986,1215.5 960,1202.5 960,1228.5" fill="#1a4299"/>
<polyline points="1755.5,1290 1755.5,1225.6 1892,1225.6" fill="none" stroke="#1a4299" stroke-width="8" stroke-linejoin="round"/>
<polygon points="1916,1225.6 1890,1212.6 1890,1238.6" fill="#1a4299"/>
<rect x="361.5" y="1257.3" width="182.8" height="55.7" rx="6.5" fill="#6c6bd1" stroke="#2d2560" stroke-width="3.8"/>
<text x="453.3" y="1294.5" font-size="28.3" fill="#fff" stroke="#fff" stroke-width="0.5" text-anchor="middle" textLength="144.6" lengthAdjust="spacingAndGlyphs">Cathepsin D</text>
<rect x="588.8" y="1257.3" width="183.5" height="55.7" rx="6.5" fill="#c94d4f" stroke="#6d1a22" stroke-width="3.8"/>
<text x="680.9" y="1294.5" font-size="28.3" fill="#fff" stroke="#fff" stroke-width="0.5" text-anchor="middle" textLength="144.6" lengthAdjust="spacingAndGlyphs">Cathepsin D</text>
<rect x="1541.5" y="1254.5" width="183.1" height="56.7" rx="6.5" fill="#c94d4f" stroke="#6d1a22" stroke-width="3.8"/>
<text x="1633.5" y="1292.1" font-size="28.3" fill="#fff" stroke="#fff" stroke-width="0.5" text-anchor="middle" textLength="114" lengthAdjust="spacingAndGlyphs">PPP1R3G</text>
<rect x="197.4" y="214" width="5.4" height="64" fill="#3b1f5a"/>
<rect x="239" y="214" width="5.6" height="63" fill="#2a2560"/>
<rect x="194.7" y="276.5" width="11.4" height="53.5" rx="3" fill="#8e65ab" stroke="#472569" stroke-width="1.6"/>
<rect x="236.2" y="274.7" width="12.6" height="56.3" rx="3.5" fill="#6b6ab0" stroke="#2a2a72" stroke-width="1.6"/>
<rect x="186.8" y="48.2" width="23.6" height="43.5" rx="11.8" transform="rotate(-24 198.6 70)" fill="#8e65ab" stroke="#472569" stroke-width="1.5"/>
<rect x="192.4" y="90.2" width="23.6" height="43.5" rx="11.8" transform="rotate(24 204.2 112)" fill="#8e65ab" stroke="#472569" stroke-width="1.5"/>
<rect x="186.8" y="132.2" width="23.6" height="43.5" rx="11.8" transform="rotate(-24 198.6 154)" fill="#8e65ab" stroke="#472569" stroke-width="1.5"/>
<rect x="192.4" y="174.2" width="23.6" height="43.5" rx="11.8" transform="rotate(24 204.2 196)" fill="#8e65ab" stroke="#472569" stroke-width="1.5"/>
<rect x="228.3" y="130" width="24" height="40" rx="12" transform="rotate(-19 240.3 150)" fill="#6b6ab0" stroke="#2a2a72" stroke-width="1.5"/>
<rect x="233.2" y="169.1" width="24" height="46.5" rx="12" transform="rotate(7 245.2 192.3)" fill="#6b6ab0" stroke="#2a2a72" stroke-width="1.5"/>
<circle cx="231" cy="124" r="16.8" fill="#fff"/>
<circle cx="231" cy="124.2" r="15.4" fill="#c94f4f" stroke="#701018" stroke-width="2.8"/>
<rect x="91.5" y="269.1" width="103.7" height="48.2" rx="24.1" fill="#d4eeea" stroke="#236b5c" stroke-width="3.9"/>
<text x="143.4" y="302.3" font-size="27.3" fill="#000" text-anchor="middle" textLength="60.5" lengthAdjust="spacingAndGlyphs" stroke="#000" stroke-width="0.35">JAK1</text>
<rect x="91.5" y="318.8" width="103.7" height="48.5" rx="24.2" fill="#f4e0f8" stroke="#8d4a9d" stroke-width="3.9"/>
<text x="143.4" y="352.1" font-size="27.3" fill="#000" text-anchor="middle" textLength="78" lengthAdjust="spacingAndGlyphs" stroke="#000" stroke-width="0.35">STAT3</text>
<rect x="246" y="269.1" width="102.9" height="48.2" rx="24.1" fill="#e0eefb" stroke="#2e6194" stroke-width="3.9"/>
<text x="297.5" y="302.3" font-size="27.3" fill="#000" text-anchor="middle" textLength="64" lengthAdjust="spacingAndGlyphs" stroke="#000" stroke-width="0.35">TYK2</text>
<rect x="246" y="318.8" width="102.9" height="48.5" rx="24.2" fill="#e4e0f5" stroke="#45308f" stroke-width="3.9"/>
<text x="297.5" y="352.1" font-size="27.3" fill="#000" text-anchor="middle" textLength="78" lengthAdjust="spacingAndGlyphs" stroke="#000" stroke-width="0.35">STAT3</text>
<path d="M144.4 370.8L220.2 449.6L296.6 373M220.2 448V497" fill="none" stroke="#68248c" stroke-width="4.5" stroke-linejoin="miter"/>
<polygon points="220.2,517.4 208.9,494.9 231.5,494.9" fill="#68248c"/>
<rect x="154.4" y="522.1" width="107.5" height="47.6" rx="23.8" fill="#f4e0f8" stroke="#8d4a9d" stroke-width="3.9"/>
<text x="210.3" y="555.1" font-size="27.3" fill="#000" text-anchor="middle" textLength="77" lengthAdjust="spacingAndGlyphs" stroke="#000" stroke-width="0.35">STAT3</text>
<rect x="158" y="571.2" width="103.9" height="48" rx="24" fill="#e4e0f5" stroke="#45308f" stroke-width="3.9"/>
<text x="210.3" y="604.4" font-size="27.3" fill="#000" text-anchor="middle" textLength="77" lengthAdjust="spacingAndGlyphs" stroke="#000" stroke-width="0.35">STAT3</text>
<circle cx="275.8" cy="547" r="20.8" fill="#ffd821" stroke="#5b3a0c" stroke-width="4"/>
<text x="275.8" y="556.7" font-size="27" fill="#000" text-anchor="middle">P</text>
<circle cx="275.8" cy="596.4" r="20.8" fill="#ffd821" stroke="#5b3a0c" stroke-width="4"/>
<text x="275.8" y="606.1" font-size="27" fill="#000" text-anchor="middle">P</text>
<rect x="144.5" y="908.4" width="103.4" height="47.7" rx="23.9" fill="#f4e0f8" stroke="#8d4a9d" stroke-width="3.9"/>
<text x="196.2" y="941.3" font-size="27.3" fill="#000" text-anchor="middle" textLength="77" lengthAdjust="spacingAndGlyphs" stroke="#000" stroke-width="0.35">STAT3</text>
<rect x="144.5" y="957.5" width="103.4" height="48.3" rx="24.2" fill="#e4e0f5" stroke="#45308f" stroke-width="3.9"/>
<text x="196.2" y="990.8" font-size="27.3" fill="#000" text-anchor="middle" textLength="77" lengthAdjust="spacingAndGlyphs" stroke="#000" stroke-width="0.35">STAT3</text>
<circle cx="262" cy="933" r="20.8" fill="#ffd821" stroke="#5b3a0c" stroke-width="4"/>
<text x="262" y="942.7" font-size="27" fill="#000" text-anchor="middle">P</text>
<circle cx="262" cy="982.6" r="20.8" fill="#ffd821" stroke="#5b3a0c" stroke-width="4"/>
<text x="262" y="992.3" font-size="27" fill="#000" text-anchor="middle">P</text>
<polyline points="214.3,637.5 212.4,887.4" fill="none" stroke="#444444" stroke-width="3.6" stroke-linejoin="miter"/>
<polygon points="212.3,903.4 203.1,885.3 221.7,885.5" fill="#444444"/>
<polyline points="208.5,1011 208.5,1088" fill="none" stroke="#444444" stroke-width="3.6" stroke-linejoin="miter"/>
<polygon points="208.5,1104 199.2,1086 217.8,1086" fill="#444444"/>
<rect x="930.3" y="198" width="5.6" height="106.4" rx="2.8" fill="#1f4c4a"/>
<rect x="928" y="261.5" width="10.2" height="33" rx="4.6" fill="#43a348" stroke="#1f5a50" stroke-width="1.5"/>
<rect x="979.7" y="198" width="5.6" height="106.4" rx="2.8" fill="#1f4c4a"/>
<rect x="977.4" y="261.5" width="10.2" height="33" rx="4.6" fill="#43a348" stroke="#1f5a50" stroke-width="1.5"/>
<rect x="942" y="208" width="5.8" height="113.8" rx="2.9" fill="#15261a"/>
<rect x="939.3" y="275.9" width="11.2" height="35.6" rx="4.8" fill="#3a5f50" stroke="#1a2a1c" stroke-width="1.7"/>
<rect x="967" y="208" width="5.8" height="113.8" rx="2.9" fill="#15261a"/>
<rect x="964.3" y="275.9" width="11.2" height="35.6" rx="4.8" fill="#3a5f50" stroke="#1a2a1c" stroke-width="1.7"/>
<path d="M929.1 110.3C930.8 110.1 933.3 111.5 934.7 112.7C936.1 113.8 937.3 113.5 937.7 117.1C938.1 120.7 937.1 125.7 936.8 134.3C936.6 142.8 936.1 158.6 936 168.6C935.8 178.5 936.3 188.9 936 194.3C935.7 199.6 935.4 199.7 934.3 200.8C933.1 201.8 930.7 201.2 929.1 200.4C927.5 199.7 925.5 197.9 924.6 196.1C923.7 194.4 923.4 192.4 923.6 190C923.7 187.5 925 184.3 925.4 181.4C925.7 178.5 926.2 176.4 925.7 172.8C925.2 169.3 924 164.1 922.5 160C920.9 155.8 917.9 151.7 916.5 148C915 144.3 913.7 141.1 913.7 137.7C913.7 134.3 914.9 130.5 916.3 127.4C917.7 124.3 920.8 121.3 922.1 119C923.5 116.7 923.3 115.2 924.4 113.7C925.6 112.3 927.4 110.5 929.1 110.3Z" fill="#43a348" stroke="#1f5a50" stroke-width="1.3"/>
<path d="M985.9 110.3C984.2 110.1 981.7 111.5 980.3 112.7C978.9 113.8 977.7 113.5 977.3 117.1C976.9 120.7 977.9 125.7 978.2 134.3C978.4 142.8 978.9 158.6 979 168.6C979.2 178.5 978.7 188.9 979 194.3C979.3 199.6 979.6 199.7 980.7 200.8C981.9 201.8 984.3 201.2 985.9 200.4C987.5 199.7 989.5 197.9 990.4 196.1C991.3 194.4 991.6 192.4 991.4 190C991.3 187.5 990 184.3 989.6 181.4C989.3 178.5 988.8 176.4 989.3 172.8C989.8 169.3 991 164.1 992.5 160C994.1 155.8 997.1 151.7 998.5 148C1000 144.3 1001.3 141.1 1001.3 137.7C1001.3 134.3 1000.1 130.5 998.7 127.4C997.3 124.3 994.2 121.3 992.9 119C991.5 116.7 991.7 115.2 990.6 113.7C989.4 112.3 987.6 110.5 985.9 110.3Z" fill="#43a348" stroke="#1f5a50" stroke-width="1.3"/>
<path d="M941.1 114.1C943.1 114.3 946.5 115.7 948 117.1C949.5 118.6 950.4 121.1 950.2 123C950 124.8 948.6 126.1 947 128.3C945.3 130.4 941.8 133.3 940.3 136C938.7 138.7 937.7 141.7 937.7 144.6C937.7 147.4 939 149.7 940.3 153.1C941.6 156.6 943.7 160.4 945.4 165.1C947.1 169.8 949 176.1 950.6 181.4C952.1 186.7 954 193.2 954.7 196.8C955.4 200.5 955.4 201.3 954.8 203.3C954.3 205.3 953.1 207.5 951.4 208.8C949.7 210.2 946.8 211.4 944.6 211.4C942.3 211.4 939.5 210.5 937.9 208.8C936.2 207.1 935.1 204.3 934.8 201.1C934.4 198 935.9 194 935.8 190C935.7 186 935.2 181.4 934.3 177.1C933.3 172.8 931.5 168.6 930 164.3C928.4 160 926 155.3 925 151.4C924 147.6 923.6 144.6 924 141.1C924.4 137.7 925.6 134.1 927.2 130.8C928.9 127.6 932.3 123.9 933.8 121.4C935.4 119 935.2 117.3 936.4 116.1C937.6 114.9 939.2 114 941.1 114.1Z" fill="#3a5f50" stroke="#1a2a1c" stroke-width="1.7"/>
<path d="M973.9 114.1C971.9 114.3 968.5 115.7 967 117.1C965.5 118.6 964.6 121.1 964.8 123C965 124.8 966.4 126.1 968 128.3C969.7 130.4 973.2 133.3 974.7 136C976.3 138.7 977.3 141.7 977.3 144.6C977.3 147.4 976 149.7 974.7 153.1C973.4 156.6 971.3 160.4 969.6 165.1C967.9 169.8 966 176.1 964.4 181.4C962.9 186.7 961 193.2 960.3 196.8C959.6 200.5 959.6 201.3 960.2 203.3C960.7 205.3 961.9 207.5 963.6 208.8C965.3 210.2 968.2 211.4 970.4 211.4C972.7 211.4 975.5 210.5 977.1 208.8C978.8 207.1 979.9 204.3 980.2 201.1C980.6 198 979.1 194 979.2 190C979.3 186 979.8 181.4 980.7 177.1C981.7 172.8 983.5 168.6 985 164.3C986.6 160 989 155.3 990 151.4C991 147.6 991.4 144.6 991 141.1C990.6 137.7 989.4 134.1 987.8 130.8C986.1 127.6 982.7 123.9 981.2 121.4C979.6 119 979.8 117.3 978.6 116.1C977.4 114.9 975.8 114 973.9 114.1Z" fill="#3a5f50" stroke="#1a2a1c" stroke-width="1.7"/>
<circle cx="957.4" cy="144.1" r="18.4" fill="#fff"/>
<circle cx="957.4" cy="144.1" r="16.4" fill="#c94f4f" stroke="#7a1420" stroke-width="2.4"/>
<ellipse cx="917.4" cy="339.4" rx="29.4" ry="26" fill="#961f1f" stroke="#6e3b12" stroke-width="1.6"/>
<text x="917.4" y="347.8" font-size="24.2" fill="#000" text-anchor="middle" textLength="40.3" lengthAdjust="spacingAndGlyphs" stroke="#000" stroke-width="0.4">P38</text>
<circle cx="949.6" cy="375.4" r="13.5" fill="#ffd821" stroke="#5b3a0c" stroke-width="1.9"/>
<text x="949.6" y="381.1" font-size="15.8" fill="#000" text-anchor="middle">P</text>
<rect x="1651.4" y="198" width="5.6" height="130.4" rx="2.8" fill="#233b8a"/>
<rect x="1647.2" y="276.4" width="14" height="41.6" rx="7" ry="14" fill="#6a8acb" stroke="#233b8a" stroke-width="3.2"/>
<rect x="1720.4" y="198" width="5.6" height="130.4" rx="2.8" fill="#233b8a"/>
<rect x="1716.2" y="276.4" width="14" height="41.6" rx="7" ry="14" fill="#6a8acb" stroke="#233b8a" stroke-width="3.2"/>
<rect x="1672" y="208" width="6" height="113.2" rx="3" fill="#0c2450"/>
<rect x="1668.1" y="266.5" width="13.8" height="41.6" rx="6.9" ry="14" fill="#3b5f85" stroke="#0c2450" stroke-width="3.4"/>
<rect x="1699.4" y="208" width="6" height="113.2" rx="3" fill="#0c2450"/>
<rect x="1695.5" y="266.5" width="13.8" height="41.6" rx="6.9" ry="14" fill="#3b5f85" stroke="#0c2450" stroke-width="3.4"/>
<path d="M1649.7 76.4C1651.9 76.4 1653.7 78.9 1654.9 81C1656 83.1 1656.7 86.4 1656.8 89C1656.9 91.6 1656.4 94.3 1655.7 96.4C1654.9 98.6 1653.6 100.3 1652.2 101.8C1650.9 103.3 1648.7 103.4 1647.4 105.2C1646.2 107.1 1645.2 109.8 1644.7 113C1644.2 116.2 1644.1 120.6 1644.6 124.4C1645 128.2 1646.1 131.9 1647.4 135.9C1648.8 139.9 1650.8 143.1 1652.6 148.4C1654.4 153.8 1656.8 162.3 1658.3 167.9C1659.8 173.4 1660.8 177.6 1661.4 181.6C1661.9 185.6 1662.1 188.8 1661.7 191.9C1661.3 194.9 1660.1 198 1658.9 199.9C1657.6 201.7 1655.9 202.7 1654.3 202.7C1652.7 202.7 1650.5 201.9 1649.3 199.9C1648 197.9 1647.2 194.4 1646.6 190.7C1646 187 1646.7 181.8 1645.7 177.6C1644.7 173.4 1642.7 170.6 1640.6 165.6C1638.4 160.5 1634.7 153.4 1632.8 147.3C1630.9 141.2 1629.7 135.1 1629.1 129C1628.6 122.9 1628.6 116.4 1629.4 110.7C1630.1 105 1631.7 99.7 1633.7 94.7C1635.8 89.8 1639 84 1641.7 81C1644.4 78 1647.5 76.4 1649.7 76.4Z" fill="#6a8acb" stroke="#233b8a" stroke-width="2.8"/>
<path d="M1727.7 76.4C1725.5 76.4 1723.7 78.9 1722.5 81C1721.4 83.1 1720.7 86.4 1720.6 89C1720.5 91.6 1721 94.3 1721.7 96.4C1722.5 98.6 1723.8 100.3 1725.2 101.8C1726.5 103.3 1728.7 103.4 1730 105.2C1731.2 107.1 1732.2 109.8 1732.7 113C1733.2 116.2 1733.3 120.6 1732.8 124.4C1732.4 128.2 1731.3 131.9 1730 135.9C1728.6 139.9 1726.6 143.1 1724.8 148.4C1723 153.8 1720.6 162.3 1719.1 167.9C1717.6 173.4 1716.6 177.6 1716 181.6C1715.5 185.6 1715.3 188.8 1715.7 191.9C1716.1 194.9 1717.3 198 1718.5 199.9C1719.8 201.7 1721.5 202.7 1723.1 202.7C1724.7 202.7 1726.9 201.9 1728.1 199.9C1729.4 197.9 1730.2 194.4 1730.8 190.7C1731.4 187 1730.7 181.8 1731.7 177.6C1732.7 173.4 1734.7 170.6 1736.8 165.6C1739 160.5 1742.7 153.4 1744.6 147.3C1746.5 141.2 1747.7 135.1 1748.3 129C1748.8 122.9 1748.8 116.4 1748 110.7C1747.3 105 1745.7 99.7 1743.7 94.7C1741.6 89.8 1738.4 84 1735.7 81C1733 78 1729.9 76.4 1727.7 76.4Z" fill="#6a8acb" stroke="#233b8a" stroke-width="2.8"/>
<path d="M1667.1 104.4C1668.8 104.3 1670.9 106 1672.1 107.9C1673.4 109.7 1674.3 112.7 1674.6 115.3C1674.9 117.9 1674.6 120.8 1673.9 123.3C1673.3 125.8 1671.8 127.9 1670.9 130.1C1669.9 132.4 1668.5 134.4 1668 137C1667.5 139.6 1667.2 142.5 1667.8 145.6C1668.3 148.6 1669.9 152 1671.4 155.3C1673 158.6 1675.4 162 1677.1 165.6C1678.9 169.2 1680.7 172.8 1681.7 177C1682.8 181.2 1683.4 186.1 1683.4 190.7C1683.4 195.3 1683 200.8 1681.7 204.4C1680.4 208 1677.5 212 1675.4 212.4C1673.4 212.8 1670.6 209.4 1669.4 206.7C1668.1 204 1668.4 199.7 1668 196.4C1667.6 193.2 1668.2 190.5 1666.9 187.3C1665.5 184 1662.1 181 1660 177C1657.9 173 1655.6 168.2 1654.3 163.3C1653 158.3 1652.3 152.2 1652 147.3C1651.7 142.3 1651.8 138.5 1652.6 133.6C1653.3 128.6 1655 121.8 1656.6 117.6C1658.1 113.4 1660 110.6 1661.7 108.4C1663.5 106.2 1665.4 104.5 1667.1 104.4Z" fill="#3b5f85" stroke="#0c2450" stroke-width="3.1"/>
<path d="M1710.3 104.4C1708.6 104.3 1706.5 106 1705.3 107.9C1704 109.7 1703.1 112.7 1702.8 115.3C1702.5 117.9 1702.8 120.8 1703.5 123.3C1704.1 125.8 1705.6 127.9 1706.5 130.1C1707.5 132.4 1708.9 134.4 1709.4 137C1709.9 139.6 1710.2 142.5 1709.6 145.6C1709.1 148.6 1707.5 152 1706 155.3C1704.4 158.6 1702 162 1700.3 165.6C1698.5 169.2 1696.7 172.8 1695.7 177C1694.6 181.2 1694 186.1 1694 190.7C1694 195.3 1694.4 200.8 1695.7 204.4C1697 208 1699.9 212 1702 212.4C1704 212.8 1706.8 209.4 1708 206.7C1709.3 204 1709 199.7 1709.4 196.4C1709.8 193.2 1709.2 190.5 1710.5 187.3C1711.9 184 1715.3 181 1717.4 177C1719.5 173 1721.8 168.2 1723.1 163.3C1724.4 158.3 1725.1 152.2 1725.4 147.3C1725.7 142.3 1725.6 138.5 1724.8 133.6C1724.1 128.6 1722.4 121.8 1720.8 117.6C1719.3 113.4 1717.4 110.6 1715.7 108.4C1713.9 106.2 1712 104.5 1710.3 104.4Z" fill="#3b5f85" stroke="#0c2450" stroke-width="3.1"/>
<circle cx="1688.1" cy="146.4" r="17.8" fill="#fff"/>
<circle cx="1688.1" cy="146.4" r="15.7" fill="#37aa9e" stroke="#1f5048" stroke-width="2.3"/>
<ellipse cx="1738" cy="289.6" rx="7.1" ry="6.1" fill="#cb4a4e" stroke="#751820" stroke-width="2.6"/>
<rect x="1769.6" y="283.6" width="137.9" height="48.5" rx="24.2" fill="#eaf5d9" stroke="#5c8128" stroke-width="3.9"/>
<text x="1838.6" y="317" font-size="27.3" fill="#000" text-anchor="middle" textLength="116" lengthAdjust="spacingAndGlyphs" stroke="#000" stroke-width="0.35">SMAD2/3</text>
<ellipse cx="1768.6" cy="288.4" rx="7.1" ry="6.1" fill="#cb4a4e" stroke="#751820" stroke-width="2.6"/>
<polyline points="1838.6,345 1838.6,389.7" fill="none" stroke="#444444" stroke-width="3.6" stroke-linejoin="miter"/>
<polygon points="1838.6,405.7 1829.3,387.7 1847.9,387.7" fill="#444444"/>
<rect x="1769.6" y="411.6" width="137.9" height="48.5" rx="24.2" fill="#eaf5d9" stroke="#5c8128" stroke-width="3.9"/>
<text x="1838.6" y="445" font-size="27.3" fill="#000" text-anchor="middle" textLength="116" lengthAdjust="spacingAndGlyphs" stroke="#000" stroke-width="0.35">SMAD2/3</text>
<ellipse cx="1767" cy="420.6" rx="7.1" ry="6.1" fill="#cb4a4e" stroke="#751820" stroke-width="2.6"/>
<rect x="1771" y="464.4" width="137.3" height="48.2" rx="24.1" fill="#eaf5d9" stroke="#5c8128" stroke-width="3.9"/>
<text x="1839.7" y="497.7" font-size="27.3" fill="#000" text-anchor="middle" textLength="90" lengthAdjust="spacingAndGlyphs" stroke="#000" stroke-width="0.35">SMAD4</text>
<polyline points="1842.3,557 1842.5,1147.6" fill="none" stroke="#444444" stroke-width="3.6" stroke-linejoin="miter"/>
<polygon points="1842.5,1163.6 1833.2,1145.6 1851.8,1145.6" fill="#444444"/>
<polyline points="246.8,1172.7 373,1049.2" fill="none" stroke="#444444" stroke-width="3.6" stroke-linejoin="miter"/>
<polygon points="384.4,1038 378,1057.2 365,1043.9" fill="#444444"/>
<polyline points="468.4,1044.4 468.4,992" fill="none" stroke="#444444" stroke-width="3.6" stroke-linejoin="miter"/>
<polygon points="468.4,976 477.7,994 459.1,994" fill="#444444"/>
<polyline points="535,992.5 661.6,868.7" fill="none" stroke="#444444" stroke-width="3.6" stroke-linejoin="miter"/>
<polygon points="673,857.5 666.6,876.7 653.6,863.4" fill="#444444"/>
<polyline points="847.2,1199 847.2,1072.2" fill="none" stroke="#444444" stroke-width="3.6" stroke-linejoin="miter"/>
<polygon points="847.2,1056.2 856.5,1074.2 837.9,1074.2" fill="#444444"/>
<polyline points="917.2,1072 917.2,1019.6" fill="none" stroke="#444444" stroke-width="3.6" stroke-linejoin="miter"/>
<polygon points="917.2,1003.6 926.5,1021.6 907.9,1021.6" fill="#444444"/>
<polyline points="932.9,430.4 860.7,492.1" fill="none" stroke="#444444" stroke-width="2.4" stroke-linejoin="miter"/>
<polygon points="846.9,503.9 855.6,483 868.9,498.6" fill="#444444"/>
<polyline points="797.5,553.9 725.6,615.8" fill="none" stroke="#444444" stroke-width="2.4" stroke-linejoin="miter"/>
<polygon points="711.8,627.7 720.4,606.8 733.8,622.3" fill="#444444"/>
<polyline points="1315.3,582 1127.3,437.4" fill="none" stroke="#444444" stroke-width="2.4" stroke-linejoin="miter"/>
<polygon points="1112.9,426.3 1135.2,430.5 1122.7,446.7" fill="#444444"/>
<polyline points="1615.7,733.5 1522.8,733.5" fill="none" stroke="#444444" stroke-width="3.6" stroke-linejoin="miter"/>
<polygon points="1506.8,733.5 1524.8,724.2 1524.8,742.8" fill="#444444"/>
<polyline points="1580.5,978.4 1580.5,812" fill="none" stroke="#444444" stroke-width="3.6" stroke-linejoin="miter"/>
<polygon points="1580.5,796 1589.8,814 1571.2,814" fill="#444444"/>
<polyline points="1634.2,1007.5 1634.2,1059.6" fill="none" stroke="#444444" stroke-width="3.6" stroke-linejoin="miter"/>
<polygon points="1634.2,1075.6 1624.9,1057.6 1643.5,1057.6" fill="#444444"/>
<polyline points="1785.2,1218 1785.4,1022.8 1666.4,1022.8" fill="none" stroke="#444444" stroke-width="3.6" stroke-linejoin="miter"/>
<polygon points="1650.4,1022.8 1668.4,1013.5 1668.4,1032.1" fill="#444444"/>
<path d="M775.2 516.6C778.6 516.3 789.2 515 795.5 515.2C801.8 515.3 808 515.4 813 517.3C818 519.1 821.8 521.9 825.3 526C828.8 530.1 830.5 537.7 834 541.8C837.5 545.8 840.4 549.3 846.3 550.5C852.1 551.7 865.2 549 869 548.8" fill="none" stroke="#3c3c3c" stroke-width="1.6"/>
<path d="M450.1 575.6C454.1 576.1 461 577.6 465 580.4C468.9 583.1 472.1 588.3 473.8 591.9C475.5 595.5 475.8 598.3 475.3 602.1C474.8 605.8 473.3 610.8 470.7 614.3C468.1 617.8 463.5 621.1 459.8 623.1C456.2 625.1 452.4 626 448.7 626.5C445 627 441.5 626.3 437.8 625.9C434.2 625.6 430.5 624.1 427 624.6C423.5 625.1 419.7 627 416.8 628.9C413.9 630.8 411.5 633.5 409.6 636C407.7 638.5 405.7 641.9 405.3 644.1C404.8 646.3 405.8 648.3 406.9 649.3C408 650.2 410.1 650.6 411.8 649.8C413.5 649 415.6 646.3 417.2 644.4C418.8 642.5 419.7 639.8 421.6 638.2C423.4 636.5 425.9 634.7 428.3 634.4C430.8 634 434 634.4 436.5 636C439 637.6 441.7 641 443.3 644.1C444.9 647.3 445.9 651.4 446 655C446 658.6 445.1 662.8 443.5 665.8C442 668.9 439.3 671.8 436.8 673.3C434.2 674.8 431.1 675.4 428.3 675.1C425.6 674.8 422.7 672.9 420.2 671.5C417.7 670.1 415.5 667.7 413.4 666.6C411.4 665.6 409.7 664.8 408 665.2C406.3 665.5 404.4 666.4 403.2 668.5C402.1 670.7 401.2 674.4 400.9 678C400.7 681.7 400.9 686.4 401.9 690.3C402.8 694.1 404.5 698.4 406.6 701.1C408.8 703.8 411.8 706.1 414.8 706.5C417.7 707 421.3 705.6 424.3 703.8C427.2 702 429.9 698.9 432.4 695.7C434.9 692.5 436.9 688.2 439.2 684.8C441.5 681.4 443.5 677.9 446 675.3C448.5 672.7 451.2 670.6 454.1 669.2C457.1 667.9 460.5 667 463.6 667.2C466.8 667.3 470 668.1 473.1 670.2C476.3 672.2 480.1 676.1 482.6 679.4C485.1 682.7 486.9 686.4 488 690.3C489.2 694.1 489.6 698.4 489.4 702.5C489.2 706.5 488.3 710.8 486.7 714.7C485.1 718.5 482.6 722.7 479.9 725.5C477.2 728.4 473.8 730.4 470.4 731.6C467 732.9 463.2 733.5 459.6 733C455.9 732.5 452.1 730.6 448.7 728.9C445.3 727.2 442.4 724.7 439.2 722.8C436 720.9 432.6 718.6 429.7 717.4C426.8 716.2 424.3 715.4 421.6 715.4C418.8 715.4 415.9 716.2 413.4 717.4C410.9 718.6 408.2 720.6 406.6 722.8C405.1 725.1 404.4 728.6 403.9 731C403.4 733.3 403.3 734.1 403.6 737C403.9 739.9 404.1 745.6 405.7 748.6C407.2 751.6 410.6 754.8 412.9 755C415.2 755.2 417.6 752.3 419.3 750C421 747.7 420.4 744 422.9 741.4C425.4 738.8 430 734.3 434.3 734.3C438.6 734.3 445.8 738.5 448.6 741.4C451.5 744.2 451.9 747.8 451.4 751.4C450.9 755 448.5 760 445.7 762.9C442.9 765.8 438.4 768.2 434.3 768.6C430.2 769 424.6 765.3 421.4 765C418.2 764.7 416.4 765 415 767C413.6 769 412.6 773.2 412.9 777C413.2 780.8 415.1 786.9 417 790C418.9 793.1 421.9 795.7 424.3 795.7C426.7 795.7 428.8 791.5 431.4 790C434 788.5 437.1 786.2 440 786.4C442.9 786.6 446.7 789.4 448.6 791.4C450.5 793.4 451.7 796 451.4 798.6C451.1 801.2 449 804.6 447 807C445 809.4 440.5 810.5 439.3 812.9C438.1 815.3 438.4 818.7 440 821.4C441.6 824.1 445.8 828.2 448.6 829.3C451.4 830.4 454.9 829.9 457 827.9C459.1 825.9 459.9 820.5 461.4 817C462.8 813.5 463.3 809.4 465.7 807C468.1 804.6 471.4 802.6 475.7 802.9C480 803.2 487.6 805.5 491.4 808.6C495.2 811.7 498.1 817.4 498.6 821.4C499.1 825.4 496.9 829.8 494.3 832.9C491.7 836 486.7 838.1 482.9 840C479.1 841.9 474 842.4 471.4 844.3C468.8 846.2 467.2 848.8 467 851.4C466.8 854 468.1 857.7 470 860C471.9 862.3 474.8 864 478.6 865C482.4 866 488.2 863.9 492.9 865.7C497.6 867.5 503.7 871.4 507 875.7C510.3 880 512.6 886.2 512.9 891.4C513.2 896.6 511.2 902.8 508.6 907C506 911.2 500.8 914.6 497 916.4C493.2 918.2 490 918.7 485.7 917.9C481.4 917.1 475 914.9 471.4 911.4C467.8 907.9 465.2 902.2 464.3 897C463.4 891.8 465.9 884.7 465.7 880C465.5 875.3 465 871.9 462.9 868.6C460.8 865.3 457.4 862.8 452.9 860C448.4 857.2 441.2 855.1 435.7 852C430.2 848.9 425.5 846.7 420 841.4C414.5 836.1 407.7 828.3 402.9 820C398.1 811.7 394.5 802.1 391.4 791.4C388.3 780.7 386.2 767.6 384.3 755.7C382.4 743.8 380.7 730 380 720C379.3 710 380 703.1 380.2 695.7C380.3 688.2 380.3 682.1 380.9 675.3C381.4 668.5 382 661.1 383.6 655C385.2 648.9 387.4 643.9 390.4 638.7C393.3 633.5 397.6 628.1 401.2 623.8C404.8 619.5 408.9 616.1 412.1 612.9C415.2 609.8 417.9 607.9 419.9 604.8C422 601.6 422.4 597.5 424.3 593.9C426.1 590.3 428.3 585.9 431.1 583.1C433.8 580.3 437.4 578.3 440.6 577.1C443.7 575.9 446 575.1 450.1 575.6Z" fill="#a4b2e6" stroke="#2c4fa8" stroke-width="2.4"/>
<ellipse cx="502" cy="569.3" rx="19" ry="19" fill="#a4b2e6" stroke="#2c4fa8" stroke-width="2.4"/>
<ellipse cx="517" cy="669.3" rx="17.5" ry="17.5" fill="#a4b2e6" stroke="#2c4fa8" stroke-width="2.4"/>
<ellipse cx="503.6" cy="768.6" rx="20.5" ry="20.5" fill="#a4b2e6" stroke="#2c4fa8" stroke-width="2.4"/>
<ellipse cx="518.3" cy="843.6" rx="16.2" ry="15.2" fill="#a4b2e6" stroke="#2c4fa8" stroke-width="2.4"/>
<path d="M478.6 662.1C479.8 660.3 483.3 654 485.7 651.4C488.1 648.8 490 647 492.9 646.4C495.8 645.8 500.3 648.2 502.9 647.9C505.5 647.5 507.2 646 508.6 644.3C510 642.6 510.9 639 511.4 637.9" fill="none" stroke="#3c3c3c" stroke-width="2.1"/>
<rect x="466.4" y="660.9" width="10.5" height="24" rx="5.2" transform="rotate(55 471.6 672.9)" fill="#5fa5d9" stroke="#5fa5d9" stroke-width="0.5"/>
<path d="M467.9 706.9C469.7 706.2 473.7 703.7 478.6 702.9C483.5 702.1 491.9 701.8 497.1 702.1C502.3 702.5 505.8 705.1 510 705C514.2 704.9 520.1 702 522.1 701.4" fill="none" stroke="#444" stroke-width="2.4"/>
<rect x="477.5" y="693.5" width="21" height="7.4" rx="3" fill="#5fa5d9"/>
<rect x="477.5" y="703.5" width="21" height="7.4" rx="3" fill="#5fa5d9"/>
<rect x="480" y="699.5" width="16" height="5.5" fill="#4a7db6"/>
<use href="#gsdme" transform="translate(447.1 705) scale(0.172)"/>
<use href="#gsdme" transform="translate(480 814.3) scale(0.176)"/>
<use href="#gsdme" transform="translate(512.9 835) scale(0.176)"/>
<polyline points="547.2,628.7 503.6,661.5" fill="none" stroke="#444444" stroke-width="2.2" stroke-linejoin="miter"/>
<polygon points="489.1,672.5 499.3,652.4 511.2,668.2" fill="#444444"/>
<circle cx="785.3" cy="757.9" r="107.6" fill="#fff" stroke="#d0696e" stroke-width="3.8"/>
<circle cx="785.3" cy="757.9" r="107.6" fill="none" stroke="#efbcbe" stroke-width="1.9"/>
<path d="M827.2 701.6L825 711.9A11.8 11.8 0 1 1 834.2 709.4Z" fill="#de8788" stroke="#b4656c" stroke-width="1" stroke-linejoin="round"/>
<path d="M722.1 748L731.5 752.8A11.8 11.8 0 1 1 731.5 743.2Z" fill="#de8788" stroke="#b4656c" stroke-width="1" stroke-linejoin="round"/>
<path d="M787.8 759.7L778.4 754.9A11.8 11.8 0 1 1 778.4 764.5Z" fill="#de8788" stroke="#b4656c" stroke-width="1" stroke-linejoin="round"/>
<path d="M854.1 753.6L844.7 748.8A11.8 11.8 0 1 1 844.7 758.4Z" fill="#de8788" stroke="#b4656c" stroke-width="1" stroke-linejoin="round"/>
<path d="M738.4 786.3L739.7 775.8A11.8 11.8 0 1 1 730.7 779.1Z" fill="#de8788" stroke="#b4656c" stroke-width="1" stroke-linejoin="round"/>
<path d="M826.3 786.3L827.6 775.8A11.8 11.8 0 1 1 818.6 779.1Z" fill="#de8788" stroke="#b4656c" stroke-width="1" stroke-linejoin="round"/>
<use href="#gsdme" transform="translate(770.6 669.2) scale(0.475)"/>
<use href="#gsdme" transform="translate(770.5 811.7) scale(0.518)"/>
<path d="M1091.7 698.3C1084.9 695.7 1079.1 702.1 1073.4 703.3C1067.7 704.5 1062.8 705.1 1057.4 705.6C1052.1 706.1 1046.8 706.4 1041.4 706.5C1036.1 706.6 1030.4 705.9 1025.4 706.1C1020.5 706.2 1015.7 706.1 1011.7 707.4C1007.7 708.7 1004 711 1001.4 713.8C998.9 716.7 996.8 719.2 996.4 724.6C996 730 996.2 738.1 999.1 746.3C1002.1 754.5 1010.8 765.3 1014 773.7C1017.2 782.1 1019.3 787.4 1018.6 796.6C1017.8 805.7 1009.4 819.8 1009.4 828.6C1009.4 837.3 1012.5 845 1018.6 849.1C1024.7 853.3 1038 851 1046 853.7C1054 856.4 1062 859.8 1066.6 865.1C1071.1 870.5 1069.2 880.2 1073.4 885.7C1077.6 891.2 1084.9 897.5 1091.7 898.3C1098.6 899 1107.7 895.8 1114.6 890.3C1121.4 884.8 1126 875.4 1132.9 865.1C1139.7 854.9 1153.8 846.1 1155.7 828.6C1157.6 811 1151.1 778.3 1144.3 760C1137.4 741.7 1123.3 729.1 1114.6 718.9C1105.8 708.6 1098.6 700.9 1091.7 698.3Z" fill="#fdecec"/>
<path d="M1222 668.6C1225.8 649.5 1221.6 652.2 1224.3 645.7C1227 639.2 1232.7 632.8 1238 629.7C1243.3 626.6 1250.6 625.1 1256.3 627C1262 628.9 1268.5 635 1272.3 641.1C1276.1 647.3 1275 657.5 1279.1 664C1283.3 670.5 1291.3 675.4 1297.4 680C1303.5 684.6 1312.4 686.5 1315.7 691.4C1319.1 696.4 1319.8 702.9 1317.5 709.7C1315.3 716.6 1303.8 725.7 1302 732.6C1300.2 739.4 1303.1 744.8 1306.6 750.9C1310 757 1320 762.7 1322.6 769.1C1325.2 775.6 1324.8 784.2 1322.1 789.7C1319.4 795.2 1313.4 800.3 1306.6 802.3C1299.8 804.3 1291.3 801 1281.4 801.6C1271.5 802.2 1260.5 812.6 1247.1 805.7C1233.8 798.8 1205.6 782.9 1201.4 760C1197.2 737.1 1218.2 687.6 1222 668.6Z" fill="#fdecec"/>
<circle cx="1162" cy="761.6" r="104.9" fill="#fddede"/>
<path d="M1067.5 719.5A103.4 103.4 0 1 1 1115.1 853.7M1096.2 841.4A103.4 103.4 0 0 1 1060.9 740.1" fill="none" stroke="#d0696e" stroke-width="3.4"/>
<path d="M1067.5 719.5A103.4 103.4 0 1 1 1115.1 853.7M1096.2 841.4A103.4 103.4 0 0 1 1060.9 740.1" fill="none" stroke="#efbcbe" stroke-width="1.6"/>
<path d="M1146.5 696.2L1146.1 706.9A12 12 0 1 1 1155 702.8Z" fill="#de8586" stroke="#b3646b" stroke-width="1" stroke-linejoin="round"/>
<path d="M1102.3 745.1L1111.9 750A12 12 0 1 1 1111.9 740.2Z" fill="#de8586" stroke="#b3646b" stroke-width="1" stroke-linejoin="round"/>
<path d="M1165.3 755.4L1155.7 750.5A12 12 0 1 1 1155.7 760.3Z" fill="#de8586" stroke="#b3646b" stroke-width="1" stroke-linejoin="round"/>
<path d="M1229.3 750.2L1219.7 745.3A12 12 0 1 1 1219.7 755.1Z" fill="#de8586" stroke="#b3646b" stroke-width="1" stroke-linejoin="round"/>
<path d="M1216 807.3L1219.2 797.1A12 12 0 1 1 1209.6 798.8Z" fill="#de8586" stroke="#b3646b" stroke-width="1" stroke-linejoin="round"/>
<path d="M1145.4 819.6L1146.7 809A12 12 0 1 1 1137.6 812.4Z" fill="#de8586" stroke="#b3646b" stroke-width="1" stroke-linejoin="round"/>
<path d="M1020.9 716.2L1028.3 713.1A9 9 0 1 1 1022.7 708.3Z" fill="#de8586" stroke="#b3646b" stroke-width="1" stroke-linejoin="round"/>
<path d="M1299.9 771.4L1310.1 772.5A11.5 11.5 0 1 1 1306.7 763.8Z" fill="#de8586" stroke="#b3646b" stroke-width="1" stroke-linejoin="round"/>
<path d="M1098.3 859.6L1105.4 860.5A8 8 0 1 1 1103.2 854.3Z" fill="#de8586" stroke="#b3646b" stroke-width="1" stroke-linejoin="round"/>
<circle cx="1242.6" cy="645.7" r="4.3" fill="#7a1f25"/>
<circle cx="1029" cy="746.3" r="4.3" fill="#7a1f25"/>
<circle cx="1138.8" cy="754.7" r="4.3" fill="#7a1f25"/>
<circle cx="1292.4" cy="757.3" r="4.3" fill="#7a1f25"/>
<circle cx="1038" cy="832.5" r="4.3" fill="#7a1f25"/>
<circle cx="1153" cy="832.5" r="4.3" fill="#7a1f25"/>
<circle cx="1085.3" cy="883.4" r="4.3" fill="#7a1f25"/>
<circle cx="1263.4" cy="674" r="2" fill="#7a1f25"/>
<circle cx="1164.9" cy="694.2" r="2" fill="#7a1f25"/>
<circle cx="1109.3" cy="702.2" r="2" fill="#7a1f25"/>
<circle cx="1283.3" cy="702.2" r="2" fill="#7a1f25"/>
<circle cx="1061.8" cy="730" r="2" fill="#7a1f25"/>
<circle cx="1213.3" cy="771" r="2" fill="#7a1f25"/>
<circle cx="1035.5" cy="782" r="2" fill="#7a1f25"/>
<circle cx="1062" cy="801" r="2" fill="#7a1f25"/>
<g transform="rotate(45 1242.7 694.3)">
<ellipse cx="1242.7" cy="694.3" rx="21.6" ry="13.8" fill="#2f9fb0"/>
<ellipse cx="1242.7" cy="694.3" rx="17.9" ry="8.7" fill="none" stroke="#43b1be" stroke-width="5.2" stroke-dasharray="1.3 1.7"/>
<ellipse cx="1242.7" cy="694.3" rx="14.2" ry="3.6" fill="#fde1e1"/>
</g>
<g transform="rotate(5 1267 777.2)">
<ellipse cx="1267" cy="777.2" rx="14.4" ry="20.6" fill="#2f9fb0"/>
<ellipse cx="1267" cy="777.2" rx="8.6" ry="17.1" fill="none" stroke="#43b1be" stroke-width="4.9" stroke-dasharray="1.3 1.7"/>
<ellipse cx="1267" cy="777.2" rx="2.7" ry="13.6" fill="#fde1e1"/>
</g>
<g transform="rotate(53 1065 801.8)">
<ellipse cx="1065" cy="801.8" rx="21.6" ry="13.8" fill="#2f9fb0"/>
<ellipse cx="1065" cy="801.8" rx="17.9" ry="8.7" fill="none" stroke="#43b1be" stroke-width="5.2" stroke-dasharray="1.3 1.7"/>
<ellipse cx="1065" cy="801.8" rx="14.2" ry="3.6" fill="#fde1e1"/>
</g>
<circle cx="1062" cy="801.2" r="2" fill="#7a1f25"/>
<use href="#gsdme" transform="translate(966 508) scale(1.000)"/>
<ellipse cx="1363.3" cy="695.8" rx="33.5" ry="22.5" fill="#ffd821" stroke="#5b3a0c" stroke-width="3.3"/>
<text x="1362.7" y="703.7" font-size="23.7" fill="#000" text-anchor="middle" textLength="38.5" lengthAdjust="spacingAndGlyphs" stroke="#000" stroke-width="0.3">PP1</text>
<path d="M1371.5 666.7A32.3 32.3 0 0 1 1436.1 666.7" fill="none" stroke="#1f3a8a" stroke-width="18" stroke-linecap="round"/>
<path d="M1371.5 666.7A32.3 32.3 0 0 1 1436.1 666.7" fill="none" stroke="#6a8acb" stroke-width="15" stroke-linecap="round"/>
<path d="M1425.7 684L1465.8 716.1M1465.8 684L1425.7 716.1" stroke="#8a3d9b" stroke-width="3.7" fill="none"/>
<use href="#gsdme" transform="translate(1403 721.4) scale(1.100)"/>
<circle cx="1401.6" cy="734.6" r="13.3" fill="#ffd821" stroke="#5b3a0c" stroke-width="2.2"/>
<text x="1401.6" y="740" font-size="15" fill="#000" text-anchor="middle">P</text>
<ellipse cx="1674.6" cy="737.9" rx="33.5" ry="22.5" fill="#ffd821" stroke="#5b3a0c" stroke-width="3.3"/>
<text x="1674" y="745.8" font-size="23.7" fill="#000" text-anchor="middle" textLength="38.5" lengthAdjust="spacingAndGlyphs" stroke="#000" stroke-width="0.3">PP1</text>
<path d="M1683.4 708.3A32.3 32.3 0 0 1 1748 708.3" fill="none" stroke="#1f3a8a" stroke-width="18" stroke-linecap="round"/>
<path d="M1683.4 708.3A32.3 32.3 0 0 1 1748 708.3" fill="none" stroke="#6a8acb" stroke-width="15" stroke-linecap="round"/>
<use href="#gsdme" transform="translate(1725.7 721.4) scale(1.100)"/>
<circle cx="1724" cy="734.6" r="13.1" fill="#ffd821" stroke="#5b3a0c" stroke-width="2.2"/>
<text x="1724" y="740" font-size="15" fill="#000" text-anchor="middle">P</text>
<path d="M1543.6 1064.4A32.3 32.3 0 0 1 1608.2 1064.4" fill="none" stroke="#1f3a8a" stroke-width="18" stroke-linecap="round"/>
<path d="M1543.6 1064.4A32.3 32.3 0 0 1 1608.2 1064.4" fill="none" stroke="#6a8acb" stroke-width="15" stroke-linecap="round"/>
<rect x="407.1" y="1158.5" width="100.9" height="47.1" rx="23.6" fill="#f4e0f8" stroke="#8d4a9d" stroke-width="3.9"/>
<text x="458.5" y="1191.1" font-size="27.3" fill="#000" text-anchor="middle" textLength="78" lengthAdjust="spacingAndGlyphs" stroke="#000" stroke-width="0.35">STAT3</text>
<rect x="407.1" y="1207" width="100.9" height="47.5" rx="23.8" fill="#e4e0f5" stroke="#45308f" stroke-width="3.9"/>
<text x="458.5" y="1239.9" font-size="27.3" fill="#000" text-anchor="middle" textLength="78" lengthAdjust="spacingAndGlyphs" stroke="#000" stroke-width="0.35">STAT3</text>
<circle cx="521.1" cy="1181" r="20.8" fill="#ffd821" stroke="#5b3a0c" stroke-width="4"/>
<text x="521.1" y="1190.7" font-size="27" fill="#000" text-anchor="middle">P</text>
<circle cx="521.1" cy="1230.8" r="25.3" fill="#ffd821" stroke="#5b3a0c" stroke-width="4"/>
<text x="521.1" y="1240.9" font-size="28" fill="#000" text-anchor="middle">P</text>
<rect x="617.6" y="1158.5" width="103.4" height="47.1" rx="23.6" fill="#f4e0f8" stroke="#8d4a9d" stroke-width="3.9"/>
<text x="667.2" y="1191.1" font-size="27.3" fill="#000" text-anchor="middle" textLength="76" lengthAdjust="spacingAndGlyphs" stroke="#000" stroke-width="0.35">STAT1</text>
<rect x="617.6" y="1207" width="103.4" height="47.5" rx="23.8" fill="#f4e0f8" stroke="#8d4a9d" stroke-width="3.9"/>
<text x="667.2" y="1239.9" font-size="27.3" fill="#000" text-anchor="middle" textLength="76" lengthAdjust="spacingAndGlyphs" stroke="#000" stroke-width="0.35">STAT1</text>
<circle cx="733" cy="1181.2" r="20.8" fill="#ffd821" stroke="#5b3a0c" stroke-width="4"/>
<text x="733" y="1190.9" font-size="27" fill="#000" text-anchor="middle">P</text>
<circle cx="733" cy="1230.6" r="20.8" fill="#ffd821" stroke="#5b3a0c" stroke-width="4"/>
<text x="733" y="1240.3" font-size="27" fill="#000" text-anchor="middle">P</text>
<rect x="1563.5" y="1150.8" width="137.9" height="48.5" rx="24.3" fill="#eaf5d9" stroke="#5c8128" stroke-width="3.9"/>
<text x="1632.5" y="1184.1" font-size="27.3" fill="#000" text-anchor="middle" textLength="116" lengthAdjust="spacingAndGlyphs" stroke="#000" stroke-width="0.35">SMAD2/3</text>
<rect x="1564.6" y="1203.2" width="137.9" height="48.6" rx="24.3" fill="#eaf5d9" stroke="#5c8128" stroke-width="3.9"/>
<text x="1633.6" y="1236.7" font-size="27.3" fill="#000" text-anchor="middle" textLength="90" lengthAdjust="spacingAndGlyphs" stroke="#000" stroke-width="0.35">SMAD4</text>
<ellipse cx="1702.5" cy="1158.3" rx="7.1" ry="6.1" fill="#cb4a4e" stroke="#751820" stroke-width="2.6"/>
<path d="M500.5 1008.6L490.7 1004A12.2 12.2 0 1 1 490.7 1013.2Z" fill="#c9474b" stroke="#7a1820" stroke-width="1.3" stroke-linejoin="round"/>
<path d="M848 1004.6L857.2 1010.5A12.2 12.2 0 1 1 858.4 1001.4Z" fill="#c9474b" stroke="#7a1820" stroke-width="1.3" stroke-linejoin="round"/>
<text x="265.6" y="69.9" font-size="25.9" fill="#444444" textLength="62" lengthAdjust="spacingAndGlyphs" font-style="italic" stroke="#444444" stroke-width="0.35">IFN-β</text>
<text x="931.4" y="57.9" font-size="25.9" fill="#444444" textLength="59.5" lengthAdjust="spacingAndGlyphs" font-style="italic" stroke="#444444" stroke-width="0.35">IFN-γ</text>
<text x="1660.6" y="56.3" font-size="25.9" fill="#444444" textLength="65.8" lengthAdjust="spacingAndGlyphs" font-style="italic" stroke="#444444" stroke-width="0.35">TGF-β</text>
<text x="206.6" y="1197.8" font-size="28" fill="#444444" textLength="55" lengthAdjust="spacingAndGlyphs" stroke="#444444" stroke-width="0.35">ISGs</text>
<text x="863.6" y="1204.8" font-size="28" fill="#444444" textLength="51.5" lengthAdjust="spacingAndGlyphs" stroke="#444444" stroke-width="0.35">ISGs</text>
<text x="1801.9" y="1216.9" font-size="28" fill="#444444" textLength="51.5" lengthAdjust="spacingAndGlyphs" stroke="#444444" stroke-width="0.35">ISGs</text>
<text x="1345.4" y="618.5" font-size="25.2" fill="#444444" textLength="107.6" lengthAdjust="spacingAndGlyphs" stroke="#444444" stroke-width="0.35">PPP1R3G</text>
<text x="1656.2" y="661.7" font-size="25.2" fill="#444444" textLength="108.6" lengthAdjust="spacingAndGlyphs" stroke="#444444" stroke-width="0.35">PPP1R3G</text>
<text x="1517.6" y="1016.5" font-size="25.2" fill="#444444" textLength="107.6" lengthAdjust="spacingAndGlyphs" stroke="#444444" stroke-width="0.35">PPP1R3G</text>
<text x="309.6" y="1020.6" font-size="28" fill="#444444" textLength="146.3" lengthAdjust="spacingAndGlyphs" stroke="#444444" stroke-width="0.35">Cathepsin D</text>
<text x="766.2" y="1045.8" font-size="28" fill="#444444" textLength="136.5" lengthAdjust="spacingAndGlyphs" stroke="#444444" stroke-width="0.35">Cahepsin D</text>
<text x="293.4" y="889.8" font-size="41.3" fill="#000" textLength="111.4" lengthAdjust="spacingAndGlyphs" stroke="#000" stroke-width="0.5">ERGIC</text>
<text x="548.4" y="641.8" font-size="41.5" fill="#000" textLength="151.6" lengthAdjust="spacingAndGlyphs" stroke="#000" stroke-width="0.5">TMED10</text>
<text x="934.6" y="621.9" font-size="41.2" fill="#000" textLength="134.9" lengthAdjust="spacingAndGlyphs" stroke="#000" stroke-width="0.5">GSDME</text>
<text x="701.6" y="928.9" font-size="41.7" fill="#000" textLength="180.2" lengthAdjust="spacingAndGlyphs" stroke="#000" stroke-width="0.5">Lysosome</text>
</svg>
</body></html>
